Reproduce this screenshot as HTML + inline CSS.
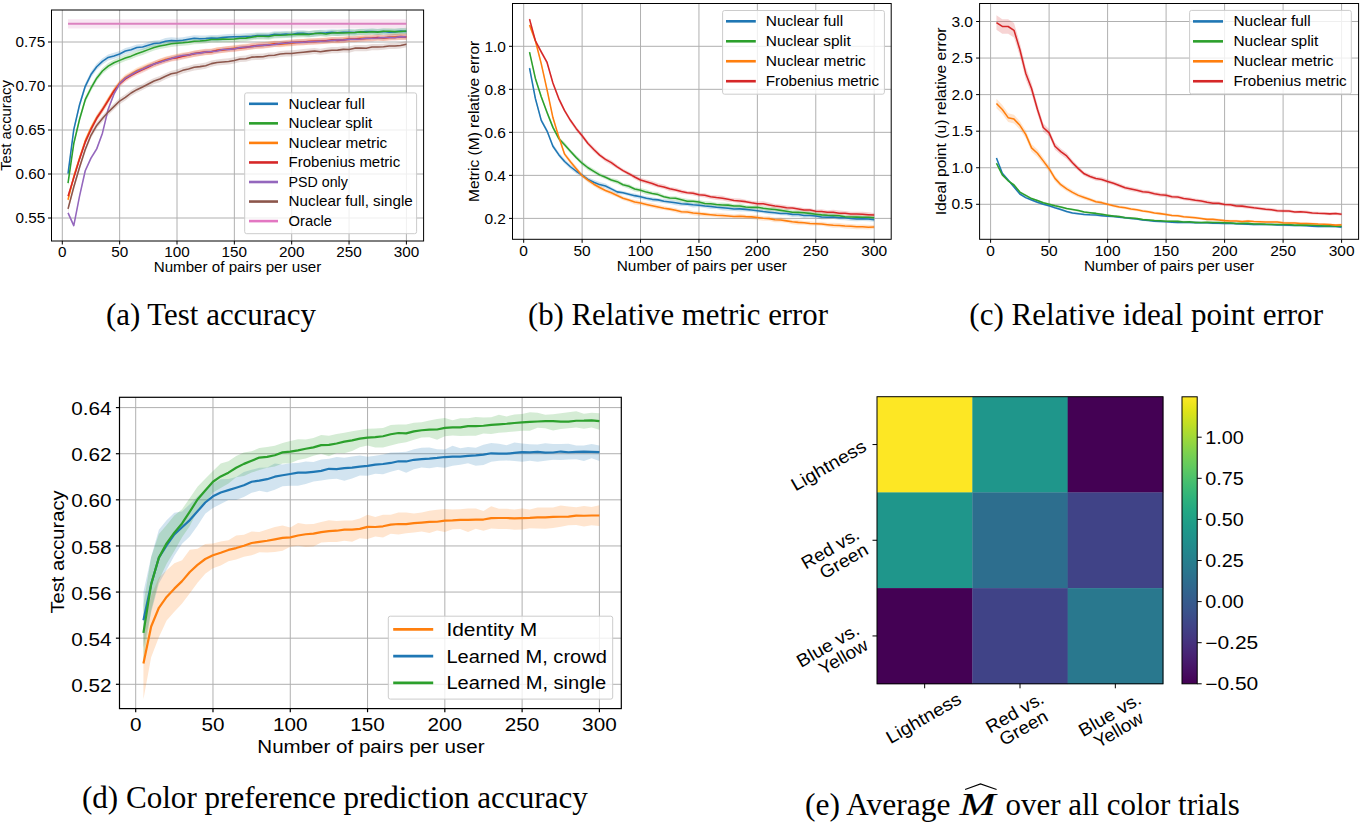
<!DOCTYPE html>
<html><head><meta charset="utf-8"><title>Figure</title>
<style>
html,body{margin:0;padding:0;background:#fff;}
body{width:1362px;height:823px;overflow:hidden;}
svg{display:block;font-family:"Liberation Sans",sans-serif;}
</style></head><body>
<svg width="1362" height="823" viewBox="0 0 1362 823">
<rect width="1362" height="823" fill="#fff"/>
<g>
<clipPath id="ca"><rect x="51.5" y="10" width="372.1" height="231"/></clipPath>
<line x1="62.3" y1="10" x2="62.3" y2="241" stroke="#b0b0b0" stroke-width="1"/>
<line x1="119.65" y1="10" x2="119.65" y2="241" stroke="#b0b0b0" stroke-width="1"/>
<line x1="177" y1="10" x2="177" y2="241" stroke="#b0b0b0" stroke-width="1"/>
<line x1="234.35" y1="10" x2="234.35" y2="241" stroke="#b0b0b0" stroke-width="1"/>
<line x1="291.7" y1="10" x2="291.7" y2="241" stroke="#b0b0b0" stroke-width="1"/>
<line x1="349.05" y1="10" x2="349.05" y2="241" stroke="#b0b0b0" stroke-width="1"/>
<line x1="406.4" y1="10" x2="406.4" y2="241" stroke="#b0b0b0" stroke-width="1"/>
<line x1="51.5" y1="218" x2="423.6" y2="218" stroke="#b0b0b0" stroke-width="1"/>
<line x1="51.5" y1="174" x2="423.6" y2="174" stroke="#b0b0b0" stroke-width="1"/>
<line x1="51.5" y1="130" x2="423.6" y2="130" stroke="#b0b0b0" stroke-width="1"/>
<line x1="51.5" y1="86" x2="423.6" y2="86" stroke="#b0b0b0" stroke-width="1"/>
<line x1="51.5" y1="42" x2="423.6" y2="42" stroke="#b0b0b0" stroke-width="1"/>
<g clip-path="url(#ca)">
<polygon points="68.03,170.49 73.77,126.49 79.5,101.96 85.24,83.22 90.97,71.49 96.71,63.62 102.44,58.25 108.18,54.4 113.91,52.82 119.65,50.94 125.38,47.98 131.12,46.59 136.86,44.47 142.59,43.93 148.32,42.09 154.06,40.52 159.8,39.99 165.53,38.11 171.26,37.32 177,37.74 182.74,37.23 188.47,36.14 194.2,35.25 199.94,35.57 205.68,35.44 211.41,34.88 217.14,35.08 222.88,34.56 228.62,34.01 234.35,33.65 240.08,33.67 245.82,33.37 251.56,33.09 257.29,32.5 263.02,32.43 268.76,32.49 274.5,31.23 280.23,31.34 285.96,31.02 291.7,31.39 297.44,30.21 303.17,30.19 308.91,30.93 314.64,30.49 320.38,29.84 326.11,29.69 331.85,29.25 337.58,29.72 343.31,29.07 349.05,29.12 354.79,29.44 360.52,28.96 366.25,28.47 371.99,28.4 377.73,28.72 383.46,28.52 389.19,29.12 394.93,28.79 400.67,28.04 406.4,28.47 406.4,34.63 400.67,34.2 394.93,34.95 389.19,35.28 383.46,34.68 377.73,34.88 371.99,34.56 366.25,34.63 360.52,35.12 354.79,35.6 349.05,35.28 343.31,35.23 337.58,35.88 331.85,35.41 326.11,35.85 320.38,36 314.64,36.65 308.91,37.09 303.17,36.35 297.44,36.37 291.7,37.55 285.96,37.18 280.23,37.5 274.5,37.39 268.76,38.65 263.02,38.59 257.29,38.66 251.56,39.25 245.82,39.53 240.08,39.83 234.35,39.81 228.62,40.17 222.88,40.72 217.14,41.24 211.41,41.04 205.68,41.6 199.94,41.73 194.2,41.41 188.47,42.3 182.74,43.39 177,43.9 171.26,43.48 165.53,44.27 159.8,46.15 154.06,46.68 148.32,48.25 142.59,50.09 136.86,50.63 131.12,52.75 125.38,54.14 119.65,57.1 113.91,58.98 108.18,60.56 102.44,64.41 96.71,69.78 90.97,77.65 85.24,89.38 79.5,108.12 73.77,132.65 68.03,176.65" fill="#1f77b4" fill-opacity="0.2"/>
<polygon points="68.03,180.04 73.77,140.45 79.5,116.47 85.24,96.63 90.97,85.15 96.71,75.15 102.44,67.9 108.18,63.09 113.91,59.66 119.65,57.27 125.38,54.87 131.12,53.08 136.86,50.6 142.59,48.73 148.32,46.53 154.06,44.44 159.8,42.84 165.53,41.86 171.26,40.76 177,40.09 182.74,39.71 188.47,39.14 194.2,38.1 199.94,37.83 205.68,37.35 211.41,36.35 217.14,36.45 222.88,36.06 228.62,36.1 234.35,35.99 240.08,35.22 245.82,35.06 251.56,34.21 257.29,33.22 263.02,33.24 268.76,33.49 274.5,32.27 280.23,32.07 285.96,31.85 291.7,31.38 297.44,31.31 303.17,31.04 308.91,31.34 314.64,30.34 320.38,30.13 326.11,30.89 331.85,29.95 337.58,29.79 343.31,29.9 349.05,29.62 354.79,29.49 360.52,28.78 366.25,29.14 371.99,28.58 377.73,29.03 383.46,28.25 389.19,28.12 394.93,28.56 400.67,28.34 406.4,27.84 406.4,34 400.67,34.5 394.93,34.72 389.19,34.28 383.46,34.41 377.73,35.19 371.99,34.74 366.25,35.3 360.52,34.94 354.79,35.65 349.05,35.78 343.31,36.06 337.58,35.95 331.85,36.11 326.11,37.05 320.38,36.29 314.64,36.5 308.91,37.5 303.17,37.2 297.44,37.47 291.7,37.54 285.96,38.01 280.23,38.23 274.5,38.43 268.76,39.65 263.02,39.4 257.29,39.38 251.56,40.37 245.82,41.22 240.08,41.38 234.35,42.15 228.62,42.26 222.88,42.22 217.14,42.61 211.41,42.51 205.68,43.51 199.94,43.99 194.2,44.26 188.47,45.3 182.74,45.87 177,46.25 171.26,46.92 165.53,48.02 159.8,49 154.06,50.6 148.32,52.69 142.59,54.89 136.86,56.76 131.12,59.24 125.38,61.03 119.65,63.43 113.91,65.82 108.18,69.25 102.44,74.06 96.71,81.31 90.97,91.31 85.24,102.79 79.5,122.63 73.77,146.61 68.03,186.2" fill="#2ca02c" fill-opacity="0.2"/>
<polygon points="68.03,196.67 73.77,173.52 79.5,155.19 85.24,137.83 90.97,125.05 96.71,114.63 102.44,106.49 108.18,96.7 113.91,87.65 119.65,79.9 125.38,74.47 131.12,71.13 136.86,67.7 142.59,65.34 148.32,62.75 154.06,60.94 159.8,58.48 165.53,56.47 171.26,55.19 177,53.67 182.74,52.57 188.47,52.05 194.2,50.48 199.94,49.73 205.68,49.16 211.41,48.63 217.14,47.17 222.88,46.81 228.62,45.91 234.35,45.1 240.08,44.58 245.82,43.75 251.56,43.59 257.29,42.63 263.02,42.36 268.76,41.37 274.5,40.89 280.23,41.08 285.96,40.57 291.7,40.05 297.44,38.97 303.17,39.03 308.91,38.48 314.64,38.4 320.38,37.87 326.11,37.64 331.85,37.34 337.58,36.82 343.31,36.51 349.05,35.92 354.79,35.82 360.52,35.31 366.25,35.09 371.99,34.7 377.73,34.71 383.46,34.89 389.19,34.03 394.93,33.69 400.67,33.51 406.4,33.58 406.4,39.74 400.67,39.67 394.93,39.85 389.19,40.19 383.46,41.05 377.73,40.87 371.99,40.86 366.25,41.25 360.52,41.47 354.79,41.98 349.05,42.08 343.31,42.67 337.58,42.98 331.85,43.5 326.11,43.8 320.38,44.03 314.64,44.56 308.91,44.64 303.17,45.19 297.44,45.13 291.7,46.21 285.96,46.73 280.23,47.24 274.5,47.05 268.76,47.53 263.02,48.52 257.29,48.79 251.56,49.75 245.82,49.91 240.08,50.74 234.35,51.26 228.62,52.07 222.88,52.97 217.14,53.33 211.41,54.79 205.68,55.32 199.94,55.89 194.2,56.64 188.47,58.21 182.74,58.73 177,59.83 171.26,61.35 165.53,62.63 159.8,64.64 154.06,67.1 148.32,68.91 142.59,71.5 136.86,73.86 131.12,77.29 125.38,80.63 119.65,86.06 113.91,93.81 108.18,102.86 102.44,112.65 96.71,120.79 90.97,131.21 85.24,143.99 79.5,161.35 73.77,179.68 68.03,202.83" fill="#ff7f0e" fill-opacity="0.2"/>
<polygon points="68.03,193.15 73.77,174.79 79.5,156.05 85.24,139.1 90.97,126.42 96.71,115.21 102.44,106.58 108.18,97.62 113.91,88.09 119.65,80.79 125.38,75.77 131.12,72.21 136.86,69.2 142.59,66.55 148.32,63.94 154.06,60.99 159.8,58.97 165.53,57.1 171.26,55.45 177,54.59 182.74,53.27 188.47,51.88 194.2,50.77 199.94,49.72 205.68,48.82 211.41,48.7 217.14,47.47 222.88,46.68 228.62,46.12 234.35,45.72 240.08,44.78 245.82,44.46 251.56,43.09 257.29,42.55 263.02,42.25 268.76,41.92 274.5,40.86 280.23,40.66 285.96,39.91 291.7,39.49 297.44,39.37 303.17,39.05 308.91,38.51 314.64,38.29 320.38,38.17 326.11,37.71 331.85,36.94 337.58,37.3 343.31,36.98 349.05,36.17 354.79,36.17 360.52,35.66 366.25,35.43 371.99,35.27 377.73,34.42 383.46,34.86 389.19,34.42 394.93,34.36 400.67,33.75 406.4,33.84 406.4,40 400.67,39.91 394.93,40.52 389.19,40.58 383.46,41.02 377.73,40.58 371.99,41.43 366.25,41.59 360.52,41.82 354.79,42.33 349.05,42.33 343.31,43.14 337.58,43.46 331.85,43.1 326.11,43.87 320.38,44.33 314.64,44.45 308.91,44.67 303.17,45.21 297.44,45.53 291.7,45.65 285.96,46.07 280.23,46.82 274.5,47.02 268.76,48.08 263.02,48.41 257.29,48.71 251.56,49.25 245.82,50.62 240.08,50.94 234.35,51.88 228.62,52.28 222.88,52.84 217.14,53.63 211.41,54.86 205.68,54.98 199.94,55.88 194.2,56.93 188.47,58.04 182.74,59.43 177,60.75 171.26,61.61 165.53,63.26 159.8,65.13 154.06,67.15 148.32,70.1 142.59,72.71 136.86,75.36 131.12,78.37 125.38,81.93 119.65,86.95 113.91,94.25 108.18,103.78 102.44,112.74 96.71,121.37 90.97,132.58 85.24,145.26 79.5,162.21 73.77,180.95 68.03,199.31" fill="#d62728" fill-opacity="0.2"/>
<polygon points="68.03,211.14 73.77,223.81 79.5,194.65 85.24,169.02 90.97,156.41 96.71,147.13 102.44,131.39 108.18,107.41 113.91,92.46 119.65,81.76 125.38,76.32 131.12,73 136.86,69.74 142.59,67.26 148.32,64.51 154.06,62.15 159.8,60.43 165.53,58.4 171.26,56.72 177,54.91 182.74,53.84 188.47,53.21 194.2,51.79 199.94,51.36 205.68,50.21 211.41,49.79 217.14,49.15 222.88,47.84 228.62,47.63 234.35,46.95 240.08,45.75 245.82,45.18 251.56,44.96 257.29,43.89 263.02,43.61 268.76,42.95 274.5,42.76 280.23,41.73 285.96,41.43 291.7,40.79 297.44,40.42 303.17,40.44 308.91,40.01 314.64,39.78 320.38,39.45 326.11,39.16 331.85,38.67 337.58,38.14 343.31,38.25 349.05,37.47 354.79,37.42 360.52,37.14 366.25,36.5 371.99,36.46 377.73,36.31 383.46,35.93 389.19,35.52 394.93,35.73 400.67,34.85 406.4,35.3 406.4,38.82 400.67,38.37 394.93,39.25 389.19,39.04 383.46,39.45 377.73,39.83 371.99,39.98 366.25,40.02 360.52,40.66 354.79,40.94 349.05,40.99 343.31,41.77 337.58,41.66 331.85,42.19 326.11,42.68 320.38,42.97 314.64,43.3 308.91,43.53 303.17,43.96 297.44,43.94 291.7,44.31 285.96,44.95 280.23,45.25 274.5,46.28 268.76,46.47 263.02,47.13 257.29,47.41 251.56,48.48 245.82,48.7 240.08,49.27 234.35,50.47 228.62,51.15 222.88,51.36 217.14,52.67 211.41,53.31 205.68,53.73 199.94,54.88 194.2,55.31 188.47,56.73 182.74,57.36 177,58.43 171.26,60.24 165.53,61.92 159.8,63.95 154.06,65.67 148.32,68.03 142.59,70.78 136.86,73.26 131.12,76.52 125.38,79.84 119.65,85.28 113.91,95.98 108.18,110.93 102.44,134.91 96.71,150.65 90.97,159.93 85.24,172.54 79.5,198.17 73.77,227.33 68.03,214.66" fill="#9467bd" fill-opacity="0.2"/>
<polygon points="68.03,205.76 73.77,183.99 79.5,164.34 85.24,146.4 90.97,132.2 96.71,122.32 102.44,115.51 108.18,109 113.91,103.6 119.65,97.99 125.38,94.37 131.12,89.92 136.86,86.6 142.59,83.91 148.32,80.87 154.06,77.94 159.8,75.97 165.53,73.16 171.26,70.74 177,69.57 182.74,67.28 188.47,65.9 194.2,64.27 199.94,63.55 205.68,62.6 211.41,60.55 217.14,59.45 222.88,58.87 228.62,58.35 234.35,57.33 240.08,55.96 245.82,55.6 251.56,54.05 257.29,53.8 263.02,53.61 268.76,52.43 274.5,52.19 280.23,50.91 285.96,50.39 291.7,50.34 297.44,49.67 303.17,49.12 308.91,48.53 314.64,47.89 320.38,48.63 326.11,47.81 331.85,47.1 337.58,47.05 343.31,46.28 349.05,46.47 354.79,45.05 360.52,45.05 366.25,45.11 371.99,44 377.73,43.99 383.46,43.69 389.19,42.9 394.93,42.89 400.67,42.36 406.4,41.11 406.4,47.27 400.67,48.52 394.93,49.05 389.19,49.06 383.46,49.85 377.73,50.15 371.99,50.16 366.25,51.27 360.52,51.21 354.79,51.21 349.05,52.63 343.31,52.44 337.58,53.21 331.85,53.26 326.11,53.97 320.38,54.79 314.64,54.05 308.91,54.69 303.17,55.28 297.44,55.83 291.7,56.5 285.96,56.55 280.23,57.07 274.5,58.35 268.76,58.59 263.02,59.77 257.29,59.96 251.56,60.21 245.82,61.76 240.08,62.12 234.35,63.49 228.62,64.51 222.88,65.03 217.14,65.61 211.41,66.71 205.68,68.76 199.94,69.71 194.2,70.43 188.47,72.06 182.74,73.44 177,75.73 171.26,76.9 165.53,79.32 159.8,82.13 154.06,84.1 148.32,87.03 142.59,90.07 136.86,92.76 131.12,96.08 125.38,100.53 119.65,104.15 113.91,109.76 108.18,115.16 102.44,121.67 96.71,128.48 90.97,138.36 85.24,152.56 79.5,170.5 73.77,190.15 68.03,211.92" fill="#8c564b" fill-opacity="0.2"/>
<polygon points="68.03,19.3 73.77,19.3 79.5,19.3 85.24,19.3 90.97,19.3 96.71,19.3 102.44,19.3 108.18,19.3 113.91,19.3 119.65,19.3 125.38,19.3 131.12,19.3 136.86,19.3 142.59,19.3 148.32,19.3 154.06,19.3 159.8,19.3 165.53,19.3 171.26,19.3 177,19.3 182.74,19.3 188.47,19.3 194.2,19.3 199.94,19.3 205.68,19.3 211.41,19.3 217.14,19.3 222.88,19.3 228.62,19.3 234.35,19.3 240.08,19.3 245.82,19.3 251.56,19.3 257.29,19.3 263.02,19.3 268.76,19.3 274.5,19.3 280.23,19.3 285.96,19.3 291.7,19.3 297.44,19.3 303.17,19.3 308.91,19.3 314.64,19.3 320.38,19.3 326.11,19.3 331.85,19.3 337.58,19.3 343.31,19.3 349.05,19.3 354.79,19.3 360.52,19.3 366.25,19.3 371.99,19.3 377.73,19.3 383.46,19.3 389.19,19.3 394.93,19.3 400.67,19.3 406.4,19.3 406.4,28.45 400.67,28.45 394.93,28.45 389.19,28.45 383.46,28.45 377.73,28.45 371.99,28.45 366.25,28.45 360.52,28.45 354.79,28.45 349.05,28.45 343.31,28.45 337.58,28.45 331.85,28.45 326.11,28.45 320.38,28.45 314.64,28.45 308.91,28.45 303.17,28.45 297.44,28.45 291.7,28.45 285.96,28.45 280.23,28.45 274.5,28.45 268.76,28.45 263.02,28.45 257.29,28.45 251.56,28.45 245.82,28.45 240.08,28.45 234.35,28.45 228.62,28.45 222.88,28.45 217.14,28.45 211.41,28.45 205.68,28.45 199.94,28.45 194.2,28.45 188.47,28.45 182.74,28.45 177,28.45 171.26,28.45 165.53,28.45 159.8,28.45 154.06,28.45 148.32,28.45 142.59,28.45 136.86,28.45 131.12,28.45 125.38,28.45 119.65,28.45 113.91,28.45 108.18,28.45 102.44,28.45 96.71,28.45 90.97,28.45 85.24,28.45 79.5,28.45 73.77,28.45 68.03,28.45" fill="#dc82c0" fill-opacity="0.2"/>
<polyline points="68.03,173.57 73.77,129.57 79.5,105.04 85.24,86.3 90.97,74.57 96.71,66.7 102.44,61.33 108.18,57.48 113.91,55.9 119.65,54.02 125.38,51.06 131.12,49.67 136.86,47.55 142.59,47.01 148.32,45.17 154.06,43.6 159.8,43.07 165.53,41.19 171.26,40.4 177,40.82 182.74,40.31 188.47,39.22 194.2,38.33 199.94,38.65 205.68,38.52 211.41,37.96 217.14,38.16 222.88,37.64 228.62,37.09 234.35,36.73 240.08,36.75 245.82,36.45 251.56,36.17 257.29,35.58 263.02,35.51 268.76,35.57 274.5,34.31 280.23,34.42 285.96,34.1 291.7,34.47 297.44,33.29 303.17,33.27 308.91,34.01 314.64,33.57 320.38,32.92 326.11,32.77 331.85,32.33 337.58,32.8 343.31,32.15 349.05,32.2 354.79,32.52 360.52,32.04 366.25,31.55 371.99,31.48 377.73,31.8 383.46,31.6 389.19,32.2 394.93,31.87 400.67,31.12 406.4,31.55" fill="none" stroke="#1f77b4" stroke-width="1.55" stroke-linejoin="round"/>
<polyline points="68.03,183.12 73.77,143.53 79.5,119.55 85.24,99.71 90.97,88.23 96.71,78.23 102.44,70.98 108.18,66.17 113.91,62.74 119.65,60.35 125.38,57.95 131.12,56.16 136.86,53.68 142.59,51.81 148.32,49.61 154.06,47.52 159.8,45.92 165.53,44.94 171.26,43.84 177,43.17 182.74,42.79 188.47,42.22 194.2,41.18 199.94,40.91 205.68,40.43 211.41,39.43 217.14,39.53 222.88,39.14 228.62,39.18 234.35,39.07 240.08,38.3 245.82,38.14 251.56,37.29 257.29,36.3 263.02,36.32 268.76,36.57 274.5,35.35 280.23,35.15 285.96,34.93 291.7,34.46 297.44,34.39 303.17,34.12 308.91,34.42 314.64,33.42 320.38,33.21 326.11,33.97 331.85,33.03 337.58,32.87 343.31,32.98 349.05,32.7 354.79,32.57 360.52,31.86 366.25,32.22 371.99,31.66 377.73,32.11 383.46,31.33 389.19,31.2 394.93,31.64 400.67,31.42 406.4,30.92" fill="none" stroke="#2ca02c" stroke-width="1.55" stroke-linejoin="round"/>
<polyline points="68.03,199.75 73.77,176.6 79.5,158.27 85.24,140.91 90.97,128.13 96.71,117.71 102.44,109.57 108.18,99.78 113.91,90.73 119.65,82.98 125.38,77.55 131.12,74.21 136.86,70.78 142.59,68.42 148.32,65.83 154.06,64.02 159.8,61.56 165.53,59.55 171.26,58.27 177,56.75 182.74,55.65 188.47,55.13 194.2,53.56 199.94,52.81 205.68,52.24 211.41,51.71 217.14,50.25 222.88,49.89 228.62,48.99 234.35,48.18 240.08,47.66 245.82,46.83 251.56,46.67 257.29,45.71 263.02,45.44 268.76,44.45 274.5,43.97 280.23,44.16 285.96,43.65 291.7,43.13 297.44,42.05 303.17,42.11 308.91,41.56 314.64,41.48 320.38,40.95 326.11,40.72 331.85,40.42 337.58,39.9 343.31,39.59 349.05,39 354.79,38.9 360.52,38.39 366.25,38.17 371.99,37.78 377.73,37.79 383.46,37.97 389.19,37.11 394.93,36.77 400.67,36.59 406.4,36.66" fill="none" stroke="#ff7f0e" stroke-width="1.55" stroke-linejoin="round"/>
<polyline points="68.03,196.23 73.77,177.87 79.5,159.13 85.24,142.18 90.97,129.5 96.71,118.29 102.44,109.66 108.18,100.7 113.91,91.17 119.65,83.87 125.38,78.85 131.12,75.29 136.86,72.28 142.59,69.63 148.32,67.02 154.06,64.07 159.8,62.05 165.53,60.18 171.26,58.53 177,57.67 182.74,56.35 188.47,54.96 194.2,53.85 199.94,52.8 205.68,51.9 211.41,51.78 217.14,50.55 222.88,49.76 228.62,49.2 234.35,48.8 240.08,47.86 245.82,47.54 251.56,46.17 257.29,45.63 263.02,45.33 268.76,45 274.5,43.94 280.23,43.74 285.96,42.99 291.7,42.57 297.44,42.45 303.17,42.13 308.91,41.59 314.64,41.37 320.38,41.25 326.11,40.79 331.85,40.02 337.58,40.38 343.31,40.06 349.05,39.25 354.79,39.25 360.52,38.74 366.25,38.51 371.99,38.35 377.73,37.5 383.46,37.94 389.19,37.5 394.93,37.44 400.67,36.83 406.4,36.92" fill="none" stroke="#d62728" stroke-width="1.55" stroke-linejoin="round"/>
<polyline points="68.03,212.9 73.77,225.57 79.5,196.41 85.24,170.78 90.97,158.17 96.71,148.89 102.44,133.15 108.18,109.17 113.91,94.22 119.65,83.52 125.38,78.08 131.12,74.76 136.86,71.5 142.59,69.02 148.32,66.27 154.06,63.91 159.8,62.19 165.53,60.16 171.26,58.48 177,56.67 182.74,55.6 188.47,54.97 194.2,53.55 199.94,53.12 205.68,51.97 211.41,51.55 217.14,50.91 222.88,49.6 228.62,49.39 234.35,48.71 240.08,47.51 245.82,46.94 251.56,46.72 257.29,45.65 263.02,45.37 268.76,44.71 274.5,44.52 280.23,43.49 285.96,43.19 291.7,42.55 297.44,42.18 303.17,42.2 308.91,41.77 314.64,41.54 320.38,41.21 326.11,40.92 331.85,40.43 337.58,39.9 343.31,40.01 349.05,39.23 354.79,39.18 360.52,38.9 366.25,38.26 371.99,38.22 377.73,38.07 383.46,37.69 389.19,37.28 394.93,37.49 400.67,36.61 406.4,37.06" fill="none" stroke="#9467bd" stroke-width="1.55" stroke-linejoin="round"/>
<polyline points="68.03,208.84 73.77,187.07 79.5,167.42 85.24,149.48 90.97,135.28 96.71,125.4 102.44,118.59 108.18,112.08 113.91,106.68 119.65,101.07 125.38,97.45 131.12,93 136.86,89.68 142.59,86.99 148.32,83.95 154.06,81.02 159.8,79.05 165.53,76.24 171.26,73.82 177,72.65 182.74,70.36 188.47,68.98 194.2,67.35 199.94,66.63 205.68,65.68 211.41,63.63 217.14,62.53 222.88,61.95 228.62,61.43 234.35,60.41 240.08,59.04 245.82,58.68 251.56,57.13 257.29,56.88 263.02,56.69 268.76,55.51 274.5,55.27 280.23,53.99 285.96,53.47 291.7,53.42 297.44,52.75 303.17,52.2 308.91,51.61 314.64,50.97 320.38,51.71 326.11,50.89 331.85,50.18 337.58,50.13 343.31,49.36 349.05,49.55 354.79,48.13 360.52,48.13 366.25,48.19 371.99,47.08 377.73,47.07 383.46,46.77 389.19,45.98 394.93,45.97 400.67,45.44 406.4,44.19" fill="none" stroke="#8c564b" stroke-width="1.55" stroke-linejoin="round"/>
<polyline points="68.03,23.87 73.77,23.87 79.5,23.87 85.24,23.87 90.97,23.87 96.71,23.87 102.44,23.87 108.18,23.87 113.91,23.87 119.65,23.87 125.38,23.87 131.12,23.87 136.86,23.87 142.59,23.87 148.32,23.87 154.06,23.87 159.8,23.87 165.53,23.87 171.26,23.87 177,23.87 182.74,23.87 188.47,23.87 194.2,23.87 199.94,23.87 205.68,23.87 211.41,23.87 217.14,23.87 222.88,23.87 228.62,23.87 234.35,23.87 240.08,23.87 245.82,23.87 251.56,23.87 257.29,23.87 263.02,23.87 268.76,23.87 274.5,23.87 280.23,23.87 285.96,23.87 291.7,23.87 297.44,23.87 303.17,23.87 308.91,23.87 314.64,23.87 320.38,23.87 326.11,23.87 331.85,23.87 337.58,23.87 343.31,23.87 349.05,23.87 354.79,23.87 360.52,23.87 366.25,23.87 371.99,23.87 377.73,23.87 383.46,23.87 389.19,23.87 394.93,23.87 400.67,23.87 406.4,23.87" fill="none" stroke="#dc82c0" stroke-width="2" stroke-linejoin="round"/>
</g>
<rect x="244.7" y="92.9" width="171.9" height="140.8" rx="2" fill="#fff" fill-opacity="0.8" stroke="#cccccc" stroke-width="1"/>
<line x1="249" y1="103.8" x2="278" y2="103.8" stroke="#1f77b4" stroke-width="2.6"/>
<text x="288.6" y="108.5" font-size="13.82" textLength="76.2" lengthAdjust="spacingAndGlyphs" fill="#000">Nuclear full</text>
<line x1="249" y1="123.35" x2="278" y2="123.35" stroke="#2ca02c" stroke-width="2.6"/>
<text x="288.6" y="128.05" font-size="13.82" textLength="83.71" lengthAdjust="spacingAndGlyphs" fill="#000">Nuclear split</text>
<line x1="249" y1="142.9" x2="278" y2="142.9" stroke="#ff7f0e" stroke-width="2.6"/>
<text x="288.6" y="147.6" font-size="13.82" textLength="98.62" lengthAdjust="spacingAndGlyphs" fill="#000">Nuclear metric</text>
<line x1="249" y1="162.45" x2="278" y2="162.45" stroke="#d62728" stroke-width="2.6"/>
<text x="288.6" y="167.15" font-size="13.82" textLength="111.58" lengthAdjust="spacingAndGlyphs" fill="#000">Frobenius metric</text>
<line x1="249" y1="182" x2="278" y2="182" stroke="#9467bd" stroke-width="2.6"/>
<text x="288.6" y="186.7" font-size="13.82" textLength="59.29" lengthAdjust="spacingAndGlyphs" fill="#000">PSD only</text>
<line x1="249" y1="201.55" x2="278" y2="201.55" stroke="#8c564b" stroke-width="2.6"/>
<text x="288.6" y="206.25" font-size="13.82" textLength="124.21" lengthAdjust="spacingAndGlyphs" fill="#000">Nuclear full, single</text>
<line x1="249" y1="221.1" x2="278" y2="221.1" stroke="#e377c2" stroke-width="2.6"/>
<text x="288.6" y="225.8" font-size="13.82" textLength="43.44" lengthAdjust="spacingAndGlyphs" fill="#000">Oracle</text>
<rect x="51.5" y="10" width="372.1" height="231" fill="none" stroke="#000" stroke-width="1"/>
<line x1="62.3" y1="241" x2="62.3" y2="244.5" stroke="#000" stroke-width="1"/>
<text x="58.05" y="257" font-size="13.82" textLength="8.49" lengthAdjust="spacingAndGlyphs" fill="#000">0</text>
<line x1="119.65" y1="241" x2="119.65" y2="244.5" stroke="#000" stroke-width="1"/>
<text x="111.16" y="257" font-size="13.82" textLength="16.99" lengthAdjust="spacingAndGlyphs" fill="#000">50</text>
<line x1="177" y1="241" x2="177" y2="244.5" stroke="#000" stroke-width="1"/>
<text x="164.26" y="257" font-size="13.82" textLength="25.48" lengthAdjust="spacingAndGlyphs" fill="#000">100</text>
<line x1="234.35" y1="241" x2="234.35" y2="244.5" stroke="#000" stroke-width="1"/>
<text x="221.61" y="257" font-size="13.82" textLength="25.48" lengthAdjust="spacingAndGlyphs" fill="#000">150</text>
<line x1="291.7" y1="241" x2="291.7" y2="244.5" stroke="#000" stroke-width="1"/>
<text x="278.96" y="257" font-size="13.82" textLength="25.48" lengthAdjust="spacingAndGlyphs" fill="#000">200</text>
<line x1="349.05" y1="241" x2="349.05" y2="244.5" stroke="#000" stroke-width="1"/>
<text x="336.31" y="257" font-size="13.82" textLength="25.48" lengthAdjust="spacingAndGlyphs" fill="#000">250</text>
<line x1="406.4" y1="241" x2="406.4" y2="244.5" stroke="#000" stroke-width="1"/>
<text x="393.66" y="257" font-size="13.82" textLength="25.48" lengthAdjust="spacingAndGlyphs" fill="#000">300</text>
<line x1="48" y1="218" x2="51.5" y2="218" stroke="#000" stroke-width="1"/>
<text x="15.47" y="223" font-size="13.82" textLength="29.73" lengthAdjust="spacingAndGlyphs" fill="#000">0.55</text>
<line x1="48" y1="174" x2="51.5" y2="174" stroke="#000" stroke-width="1"/>
<text x="15.47" y="179" font-size="13.82" textLength="29.73" lengthAdjust="spacingAndGlyphs" fill="#000">0.60</text>
<line x1="48" y1="130" x2="51.5" y2="130" stroke="#000" stroke-width="1"/>
<text x="15.47" y="135" font-size="13.82" textLength="29.73" lengthAdjust="spacingAndGlyphs" fill="#000">0.65</text>
<line x1="48" y1="86" x2="51.5" y2="86" stroke="#000" stroke-width="1"/>
<text x="15.47" y="91" font-size="13.82" textLength="29.73" lengthAdjust="spacingAndGlyphs" fill="#000">0.70</text>
<line x1="48" y1="42" x2="51.5" y2="42" stroke="#000" stroke-width="1"/>
<text x="15.47" y="47" font-size="13.82" textLength="29.73" lengthAdjust="spacingAndGlyphs" fill="#000">0.75</text>
<text x="153.71" y="272.3" font-size="13.82" textLength="167.58" lengthAdjust="spacingAndGlyphs" fill="#000">Number of pairs per user</text>
<g transform="translate(10.5 125.5) rotate(-90)"><text x="-45.38" y="0" font-size="13.82" textLength="90.77" lengthAdjust="spacingAndGlyphs" fill="#000">Test accuracy</text></g>
</g>
<g>
<clipPath id="cb"><rect x="512.5" y="3.5" width="378.7" height="235.8"/></clipPath>
<line x1="523.7" y1="3.5" x2="523.7" y2="239.3" stroke="#b0b0b0" stroke-width="1"/>
<line x1="582.12" y1="3.5" x2="582.12" y2="239.3" stroke="#b0b0b0" stroke-width="1"/>
<line x1="640.53" y1="3.5" x2="640.53" y2="239.3" stroke="#b0b0b0" stroke-width="1"/>
<line x1="698.95" y1="3.5" x2="698.95" y2="239.3" stroke="#b0b0b0" stroke-width="1"/>
<line x1="757.37" y1="3.5" x2="757.37" y2="239.3" stroke="#b0b0b0" stroke-width="1"/>
<line x1="815.78" y1="3.5" x2="815.78" y2="239.3" stroke="#b0b0b0" stroke-width="1"/>
<line x1="874.2" y1="3.5" x2="874.2" y2="239.3" stroke="#b0b0b0" stroke-width="1"/>
<line x1="512.5" y1="218.38" x2="891.2" y2="218.38" stroke="#b0b0b0" stroke-width="1"/>
<line x1="512.5" y1="175.36" x2="891.2" y2="175.36" stroke="#b0b0b0" stroke-width="1"/>
<line x1="512.5" y1="132.34" x2="891.2" y2="132.34" stroke="#b0b0b0" stroke-width="1"/>
<line x1="512.5" y1="89.32" x2="891.2" y2="89.32" stroke="#b0b0b0" stroke-width="1"/>
<line x1="512.5" y1="46.3" x2="891.2" y2="46.3" stroke="#b0b0b0" stroke-width="1"/>
<g clip-path="url(#cb)">
<polygon points="529.54,65.87 535.38,96.43 541.23,117.95 547.07,128.87 552.91,143.77 558.75,152.16 564.59,158.99 570.43,164.61 576.28,168.84 582.12,173.21 587.96,177.27 593.8,179.66 599.64,182.06 605.48,183.57 611.33,186.96 617.17,190.13 623.01,190.91 628.85,192.41 634.69,193.61 640.53,195.02 646.38,196.28 652.22,197.26 658.06,198.13 663.9,198.9 669.74,199.5 675.58,200.68 681.43,201.9 687.27,202.21 693.11,202.78 698.95,203.12 704.79,203.9 710.63,204.31 716.48,205.03 722.32,205.76 728.16,206.35 734,206.5 739.84,206.4 745.68,207.37 751.53,208.16 757.37,208.22 763.21,208.99 769.05,210.03 774.89,210.77 780.73,211.68 786.58,211.68 792.42,212.39 798.26,212.52 804.1,212.84 809.94,213 815.78,213.92 821.62,215.04 827.47,214.82 833.31,214.62 839.15,215.73 844.99,215.46 850.83,216.39 856.67,216.54 862.52,216.42 868.36,216.96 874.2,217.38 874.2,221.66 868.36,221.32 862.52,220.93 856.67,221.15 850.83,220.98 844.99,220.24 839.15,220.02 833.31,219.01 827.47,219.24 821.62,219.44 815.78,218.09 809.94,217.54 804.1,217.88 798.26,216.86 792.42,216.88 786.58,215.49 780.73,215.23 774.89,214.62 769.05,214.57 763.21,213.32 757.37,212.74 751.53,211.92 745.68,211.46 739.84,211.4 734,211.07 728.16,210.68 722.32,210.14 716.48,209.1 710.63,208.94 704.79,208.08 698.95,206.92 693.11,207.39 687.27,206.01 681.43,206.05 675.58,205.2 669.74,203.99 663.9,203.37 658.06,202.22 652.22,201.85 646.38,200.36 640.53,198.9 634.69,197.93 628.85,195.9 623.01,194.62 617.17,193.9 611.33,191.26 605.48,188.3 599.64,186.41 593.8,184.49 587.96,181.61 582.12,176.99 576.28,173.82 570.43,169.19 564.59,163.54 558.75,156.74 552.91,148.35 547.07,133.05 541.23,122.19 535.38,100.55 529.54,70.03" fill="#1f77b4" fill-opacity="0.2"/>
<polygon points="529.54,50.35 535.38,76.03 541.23,94.23 547.07,110.53 552.91,124.96 558.75,136.7 564.59,142.22 570.43,149.2 576.28,155.32 582.12,160.68 587.96,165.39 593.8,169.08 599.64,172.39 605.48,175.52 611.33,178.06 617.17,179.26 623.01,182.88 628.85,184.09 634.69,187.27 640.53,188.11 646.38,189.57 652.22,191.49 658.06,192.1 663.9,194.89 669.74,196.17 675.58,196.22 681.43,197.63 687.27,198.78 693.11,199.41 698.95,199.93 704.79,201.19 710.63,201.46 716.48,202.86 722.32,202.39 728.16,202.91 734,203.97 739.84,203.56 745.68,205 751.53,205.58 757.37,205.58 763.21,205.94 769.05,206.91 774.89,207.09 780.73,208.61 786.58,208.71 792.42,210.22 798.26,210.28 804.1,210.37 809.94,211.2 815.78,211.6 821.62,212.47 827.47,212.8 833.31,213.08 839.15,213.74 844.99,214.77 850.83,214.7 856.67,215.02 862.52,215.2 868.36,214.9 874.2,215.43 874.2,219.81 868.36,219.49 862.52,219.79 856.67,219.43 850.83,219.28 844.99,218.51 839.15,217.99 833.31,217.43 827.47,217.25 821.62,217.42 815.78,216.68 809.94,215.37 804.1,214.54 798.26,214.19 792.42,214.05 786.58,213.1 780.73,212.35 774.89,211.31 769.05,211.52 763.21,210.1 757.37,209.27 751.53,209.28 745.68,209.33 739.84,208.34 734,207.94 728.16,207.47 722.32,207.46 716.48,207.15 710.63,205.71 704.79,206.04 698.95,204.46 693.11,203.26 687.27,203.29 681.43,202.29 675.58,200.7 669.74,199.86 663.9,198.55 658.06,196.33 652.22,195.3 646.38,194.68 640.53,192.36 634.69,191.59 628.85,188.7 623.01,186.75 617.17,183.92 611.33,181.93 605.48,179.15 599.64,176.63 593.8,173.54 587.96,170.3 582.12,165.43 576.28,159.37 570.43,153.52 564.59,146.74 558.75,140.66 552.91,129.43 547.07,114.89 541.23,98.64 535.38,80.65 529.54,53.92" fill="#2ca02c" fill-opacity="0.2"/>
<polygon points="529.54,22.67 535.38,38.46 541.23,61.75 547.07,87.42 552.91,115.77 558.75,135.08 564.59,151.99 570.43,159.59 576.28,166.31 582.12,173.61 587.96,177.94 593.8,182.36 599.64,185.12 605.48,188.46 611.33,191.06 617.17,193.09 623.01,196.36 628.85,198.17 634.69,199.81 640.53,200.95 646.38,202.2 652.22,203.19 658.06,204.72 663.9,205.93 669.74,207.18 675.58,208.02 681.43,209.93 687.27,209.44 693.11,211.1 698.95,211.51 704.79,212.17 710.63,212.93 716.48,212.71 722.32,213.34 728.16,213.75 734,214.55 739.84,213.75 745.68,214.8 751.53,214.75 757.37,215.01 763.21,216.34 769.05,216.25 774.89,217.8 780.73,217.42 786.58,218.98 792.42,219.81 798.26,219.88 804.1,220.97 809.94,221.26 815.78,222.04 821.62,221.8 827.47,222.67 833.31,222.86 839.15,222.97 844.99,223.83 850.83,224 856.67,224.57 862.52,224.46 868.36,224.81 874.2,224.94 874.2,229.01 868.36,229.43 862.52,229.15 856.67,229.16 850.83,228.65 844.99,228.43 839.15,227.43 833.31,227.71 827.47,226.69 821.62,225.82 815.78,225.52 809.94,225.49 804.1,224.87 798.26,224.82 792.42,224.3 786.58,222.72 780.73,222.16 774.89,222.2 769.05,220.85 763.21,220.7 757.37,220.06 751.53,219.37 745.68,218.96 739.84,218.49 734,218.42 728.16,217.87 722.32,217.88 716.48,217.27 710.63,216.6 704.79,216.51 698.95,215.98 693.11,215.16 687.27,214.05 681.43,214.12 675.58,212.58 669.74,210.96 663.9,210.05 658.06,209.27 652.22,207.81 646.38,206.55 640.53,205.35 634.69,204.6 628.85,201.92 623.01,200.24 617.17,197.23 611.33,195.08 605.48,192.39 599.64,189.91 593.8,186.22 587.96,182.45 582.12,177.48 576.28,171.13 570.43,164 564.59,156.27 558.75,138.95 552.91,119.63 547.07,91.93 541.23,66.02 535.38,42.98 529.54,27.53" fill="#ff7f0e" fill-opacity="0.2"/>
<polygon points="529.54,17.01 535.38,38.92 541.23,49.65 547.07,60.76 552.91,81 558.75,96.11 564.59,108.43 570.43,118.39 576.28,126.59 582.12,133.54 587.96,141.09 593.8,147.12 599.64,152.8 605.48,157.46 611.33,160.35 617.17,164.64 623.01,168.76 628.85,171.72 634.69,174.67 640.53,177.66 646.38,179.58 652.22,181.09 658.06,183.18 663.9,184.62 669.74,187.06 675.58,187.8 681.43,189.52 687.27,190.94 693.11,191 698.95,192.94 704.79,193.36 710.63,195.01 716.48,195.33 722.32,195.84 728.16,197.45 734,198.2 739.84,198.43 745.68,199.7 751.53,200.8 757.37,201.56 763.21,201.3 769.05,202.46 774.89,204.01 780.73,204.51 786.58,205.43 792.42,206.18 798.26,207.1 804.1,207.99 809.94,208.13 815.78,209.38 821.62,209.31 827.47,210.37 833.31,209.8 839.15,210.59 844.99,211.06 850.83,211.72 856.67,211.71 862.52,211.85 868.36,212.2 874.2,212.97 874.2,217.31 868.36,217.04 862.52,216.53 856.67,216.29 850.83,216.52 844.99,214.97 839.15,215.68 833.31,214.42 827.47,214.69 821.62,213.38 815.78,213.15 809.94,212.28 804.1,211.87 798.26,210.72 792.42,210.05 786.58,210.06 780.73,208.73 774.89,208.58 769.05,206.93 763.21,205.75 757.37,206.25 751.53,204.7 745.68,203.46 739.84,203.34 734,202.36 728.16,201.74 722.32,200.51 716.48,200.12 710.63,198.89 704.79,197.42 698.95,196.79 693.11,195.52 687.27,194.58 681.43,193.91 675.58,191.85 669.74,191.24 663.9,188.96 658.06,187.79 652.22,185.8 646.38,184.08 640.53,182.17 634.69,179.26 628.85,175.55 623.01,172.49 617.17,168.67 611.33,165 605.48,161.84 599.64,156.96 593.8,152.05 587.96,145.5 582.12,138.25 576.28,131.09 570.43,122.76 564.59,112.62 558.75,101.07 552.91,85.41 547.07,64.54 541.23,53.94 535.38,42.94 529.54,21.15" fill="#d62728" fill-opacity="0.2"/>
<polyline points="529.54,68.07 535.38,98.52 541.23,120.36 547.07,131.08 552.91,146.31 558.75,154.64 564.59,161.54 570.43,166.75 576.28,171.26 582.12,175.11 587.96,179.33 593.8,182.2 599.64,184.6 605.48,186.06 611.33,188.87 617.17,191.89 623.01,192.75 628.85,194.16 634.69,195.63 640.53,196.77 646.38,198.22 652.22,199.36 658.06,199.88 663.9,201.2 669.74,201.97 675.58,202.75 681.43,203.73 687.27,204.11 693.11,204.85 698.95,205.18 704.79,206.1 710.63,206.59 716.48,207.27 722.32,207.66 728.16,208.35 734,209.01 739.84,208.89 745.68,209.39 751.53,210.03 757.37,210.67 763.21,211.56 769.05,212.2 774.89,212.73 780.73,213.5 786.58,213.48 792.42,214.36 798.26,214.52 804.1,215.42 809.94,215.41 815.78,215.93 821.62,217.06 827.47,217.26 833.31,217.03 839.15,217.76 844.99,217.66 850.83,218.49 856.67,219.06 862.52,218.86 868.36,218.99 874.2,219.65" fill="none" stroke="#1f77b4" stroke-width="1.55" stroke-linejoin="round"/>
<polyline points="529.54,52.13 535.38,78.43 541.23,96.71 547.07,112.43 552.91,127.38 558.75,138.47 564.59,144.8 570.43,151.22 576.28,157.63 582.12,163.23 587.96,167.74 593.8,171.35 599.64,174.85 605.48,177.28 611.33,179.97 617.17,181.68 623.01,184.73 628.85,186.32 634.69,189.01 640.53,190.26 646.38,192.12 652.22,193.56 658.06,194.61 663.9,196.67 669.74,197.9 675.58,198.35 681.43,199.79 687.27,201.15 693.11,201.26 698.95,202.08 704.79,203.47 710.63,203.8 716.48,204.59 722.32,204.92 728.16,205.12 734,205.95 739.84,205.94 745.68,206.96 751.53,207.36 757.37,207.35 763.21,208.33 769.05,208.99 774.89,209.55 780.73,210.39 786.58,211.22 792.42,212.25 798.26,212.36 804.1,212.8 809.94,213.38 815.78,214.15 821.62,214.86 827.47,215.29 833.31,215.43 839.15,215.83 844.99,216.69 850.83,216.92 856.67,217.13 862.52,217.28 868.36,217.26 874.2,217.73" fill="none" stroke="#2ca02c" stroke-width="1.55" stroke-linejoin="round"/>
<polyline points="529.54,25 535.38,40.76 541.23,63.67 547.07,89.88 552.91,117.55 558.75,136.87 564.59,154.15 570.43,161.83 576.28,168.79 582.12,175.68 587.96,180.07 593.8,184.21 599.64,187.51 605.48,190.44 611.33,192.83 617.17,195.49 623.01,198.25 628.85,200.1 634.69,202.06 640.53,203 646.38,204.43 652.22,205.75 658.06,206.97 663.9,208.21 669.74,209.13 675.58,210.27 681.43,211.65 687.27,211.97 693.11,213.02 698.95,213.43 704.79,214.14 710.63,214.73 716.48,215.2 722.32,215.52 728.16,215.97 734,216.49 739.84,216.23 745.68,216.62 751.53,216.86 757.37,217.57 763.21,218.21 769.05,218.63 774.89,219.79 780.73,219.98 786.58,220.86 792.42,221.75 798.26,222.38 804.1,222.71 809.94,223.49 815.78,223.79 821.62,224.1 827.47,224.7 833.31,225.33 839.15,225.4 844.99,225.98 850.83,226.33 856.67,226.68 862.52,226.82 868.36,227.34 874.2,227.07" fill="none" stroke="#ff7f0e" stroke-width="1.55" stroke-linejoin="round"/>
<polyline points="529.54,19.11 535.38,40.75 541.23,51.91 547.07,62.48 552.91,83.06 558.75,98.59 564.59,110.63 570.43,120.29 576.28,128.67 582.12,135.84 587.96,143.5 593.8,149.52 599.64,155.09 605.48,159.36 611.33,162.7 617.17,166.88 623.01,170.64 628.85,173.7 634.69,177 640.53,179.96 646.38,181.7 652.22,183.51 658.06,185.7 663.9,186.9 669.74,188.85 675.58,190.06 681.43,191.58 687.27,192.7 693.11,193.19 698.95,194.8 704.79,195.35 710.63,196.81 716.48,197.59 722.32,198.23 728.16,199.23 734,200.52 739.84,200.9 745.68,201.64 751.53,202.8 757.37,203.67 763.21,203.81 769.05,204.95 774.89,206.06 780.73,206.66 786.58,207.67 792.42,207.95 798.26,208.95 804.1,209.99 809.94,210.01 815.78,211.2 821.62,211.56 827.47,212.29 833.31,212.16 839.15,213.16 844.99,213.24 850.83,214.02 856.67,214.06 862.52,214.22 868.36,214.65 874.2,214.98" fill="none" stroke="#d62728" stroke-width="1.55" stroke-linejoin="round"/>
</g>
<rect x="722.6" y="10.5" width="161.8" height="83.7" rx="2" fill="#fff" fill-opacity="0.8" stroke="#cccccc" stroke-width="1"/>
<line x1="726" y1="21.3" x2="755.8" y2="21.3" stroke="#1f77b4" stroke-width="2.6"/>
<text x="765.8" y="26.1" font-size="14.02" textLength="77.35" lengthAdjust="spacingAndGlyphs" fill="#000">Nuclear full</text>
<line x1="726" y1="41.27" x2="755.8" y2="41.27" stroke="#2ca02c" stroke-width="2.6"/>
<text x="765.8" y="46.07" font-size="14.02" textLength="84.96" lengthAdjust="spacingAndGlyphs" fill="#000">Nuclear split</text>
<line x1="726" y1="61.24" x2="755.8" y2="61.24" stroke="#ff7f0e" stroke-width="2.6"/>
<text x="765.8" y="66.04" font-size="14.02" textLength="100.09" lengthAdjust="spacingAndGlyphs" fill="#000">Nuclear metric</text>
<line x1="726" y1="81.21" x2="755.8" y2="81.21" stroke="#d62728" stroke-width="2.6"/>
<text x="765.8" y="86.01" font-size="14.02" textLength="113.25" lengthAdjust="spacingAndGlyphs" fill="#000">Frobenius metric</text>
<rect x="512.5" y="3.5" width="378.7" height="235.8" fill="none" stroke="#000" stroke-width="1"/>
<line x1="523.7" y1="239.3" x2="523.7" y2="242.8" stroke="#000" stroke-width="1"/>
<text x="519.39" y="255.5" font-size="14.02" textLength="8.62" lengthAdjust="spacingAndGlyphs" fill="#000">0</text>
<line x1="582.12" y1="239.3" x2="582.12" y2="242.8" stroke="#000" stroke-width="1"/>
<text x="573.5" y="255.5" font-size="14.02" textLength="17.24" lengthAdjust="spacingAndGlyphs" fill="#000">50</text>
<line x1="640.53" y1="239.3" x2="640.53" y2="242.8" stroke="#000" stroke-width="1"/>
<text x="627.6" y="255.5" font-size="14.02" textLength="25.86" lengthAdjust="spacingAndGlyphs" fill="#000">100</text>
<line x1="698.95" y1="239.3" x2="698.95" y2="242.8" stroke="#000" stroke-width="1"/>
<text x="686.02" y="255.5" font-size="14.02" textLength="25.86" lengthAdjust="spacingAndGlyphs" fill="#000">150</text>
<line x1="757.37" y1="239.3" x2="757.37" y2="242.8" stroke="#000" stroke-width="1"/>
<text x="744.43" y="255.5" font-size="14.02" textLength="25.86" lengthAdjust="spacingAndGlyphs" fill="#000">200</text>
<line x1="815.78" y1="239.3" x2="815.78" y2="242.8" stroke="#000" stroke-width="1"/>
<text x="802.85" y="255.5" font-size="14.02" textLength="25.86" lengthAdjust="spacingAndGlyphs" fill="#000">250</text>
<line x1="874.2" y1="239.3" x2="874.2" y2="242.8" stroke="#000" stroke-width="1"/>
<text x="861.27" y="255.5" font-size="14.02" textLength="25.86" lengthAdjust="spacingAndGlyphs" fill="#000">300</text>
<line x1="509" y1="218.38" x2="512.5" y2="218.38" stroke="#000" stroke-width="1"/>
<text x="484.45" y="223.68" font-size="14.02" textLength="21.55" lengthAdjust="spacingAndGlyphs" fill="#000">0.2</text>
<line x1="509" y1="175.36" x2="512.5" y2="175.36" stroke="#000" stroke-width="1"/>
<text x="484.45" y="180.66" font-size="14.02" textLength="21.55" lengthAdjust="spacingAndGlyphs" fill="#000">0.4</text>
<line x1="509" y1="132.34" x2="512.5" y2="132.34" stroke="#000" stroke-width="1"/>
<text x="484.45" y="137.64" font-size="14.02" textLength="21.55" lengthAdjust="spacingAndGlyphs" fill="#000">0.6</text>
<line x1="509" y1="89.32" x2="512.5" y2="89.32" stroke="#000" stroke-width="1"/>
<text x="484.45" y="94.62" font-size="14.02" textLength="21.55" lengthAdjust="spacingAndGlyphs" fill="#000">0.8</text>
<line x1="509" y1="46.3" x2="512.5" y2="46.3" stroke="#000" stroke-width="1"/>
<text x="484.45" y="51.6" font-size="14.02" textLength="21.55" lengthAdjust="spacingAndGlyphs" fill="#000">1.0</text>
<text x="616.76" y="271" font-size="14.02" textLength="170.09" lengthAdjust="spacingAndGlyphs" fill="#000">Number of pairs per user</text>
<g transform="translate(479 121.4) rotate(-90)"><text x="-80.61" y="0" font-size="14.02" textLength="161.23" lengthAdjust="spacingAndGlyphs" fill="#000">Metric (M) relative error</text></g>
</g>
<g>
<clipPath id="cc"><rect x="979.6" y="3.5" width="379" height="235.8"/></clipPath>
<line x1="990.6" y1="3.5" x2="990.6" y2="239.3" stroke="#b0b0b0" stroke-width="1"/>
<line x1="1049.1" y1="3.5" x2="1049.1" y2="239.3" stroke="#b0b0b0" stroke-width="1"/>
<line x1="1107.6" y1="3.5" x2="1107.6" y2="239.3" stroke="#b0b0b0" stroke-width="1"/>
<line x1="1166.1" y1="3.5" x2="1166.1" y2="239.3" stroke="#b0b0b0" stroke-width="1"/>
<line x1="1224.6" y1="3.5" x2="1224.6" y2="239.3" stroke="#b0b0b0" stroke-width="1"/>
<line x1="1283.1" y1="3.5" x2="1283.1" y2="239.3" stroke="#b0b0b0" stroke-width="1"/>
<line x1="1341.6" y1="3.5" x2="1341.6" y2="239.3" stroke="#b0b0b0" stroke-width="1"/>
<line x1="979.6" y1="204.3" x2="1358.6" y2="204.3" stroke="#b0b0b0" stroke-width="1"/>
<line x1="979.6" y1="167.74" x2="1358.6" y2="167.74" stroke="#b0b0b0" stroke-width="1"/>
<line x1="979.6" y1="131.18" x2="1358.6" y2="131.18" stroke="#b0b0b0" stroke-width="1"/>
<line x1="979.6" y1="94.62" x2="1358.6" y2="94.62" stroke="#b0b0b0" stroke-width="1"/>
<line x1="979.6" y1="58.06" x2="1358.6" y2="58.06" stroke="#b0b0b0" stroke-width="1"/>
<line x1="979.6" y1="21.5" x2="1358.6" y2="21.5" stroke="#b0b0b0" stroke-width="1"/>
<g clip-path="url(#cc)">
<polygon points="996.45,156.89 1002.3,172.23 1008.15,178.84 1014,185.9 1019.85,192.91 1025.7,196.51 1031.55,198.9 1037.4,201.23 1043.25,203.12 1049.1,204.7 1054.95,206.66 1060.8,208.44 1066.65,210.49 1072.5,211.95 1078.35,212.59 1084.2,213.35 1090.05,213.73 1095.9,213.97 1101.75,214.55 1107.6,215.16 1113.45,215.28 1119.3,216.02 1125.15,216.65 1131,217.38 1136.85,217.88 1142.7,218.91 1148.55,219.3 1154.4,220.08 1160.25,220.4 1166.1,220.66 1171.95,221.08 1177.8,221.39 1183.65,221.33 1189.5,221.32 1195.35,221.52 1201.2,221.72 1207.05,221.73 1212.9,222.12 1218.75,222.25 1224.6,222.32 1230.45,222.19 1236.3,222.72 1242.15,222.93 1248,223.11 1253.85,223.31 1259.7,223.35 1265.55,223.35 1271.4,223.38 1277.25,223.84 1283.1,224 1288.95,224.23 1294.8,224.41 1300.65,224.32 1306.5,224.65 1312.35,225.01 1318.2,225.29 1324.05,225.09 1329.9,225.34 1335.75,225.47 1341.6,226.02 1341.6,228.22 1335.75,227.67 1329.9,227.53 1324.05,227.29 1318.2,227.49 1312.35,227.2 1306.5,226.84 1300.65,226.51 1294.8,226.6 1288.95,226.43 1283.1,226.2 1277.25,226.04 1271.4,225.57 1265.55,225.54 1259.7,225.54 1253.85,225.51 1248,225.3 1242.15,225.12 1236.3,224.91 1230.45,224.38 1224.6,224.51 1218.75,224.45 1212.9,224.31 1207.05,223.92 1201.2,223.92 1195.35,223.72 1189.5,223.52 1183.65,223.52 1177.8,223.59 1171.95,223.27 1166.1,222.85 1160.25,222.59 1154.4,222.27 1148.55,221.5 1142.7,221.1 1136.85,220.07 1131,219.57 1125.15,218.85 1119.3,218.21 1113.45,217.47 1107.6,217.35 1101.75,216.74 1095.9,216.16 1090.05,215.93 1084.2,215.54 1078.35,214.78 1072.5,214.14 1066.65,212.68 1060.8,210.63 1054.95,208.85 1049.1,206.89 1043.25,205.32 1037.4,203.42 1031.55,201.09 1025.7,198.7 1019.85,195.11 1014,188.09 1008.15,181.04 1002.3,174.42 996.45,159.08" fill="#1f77b4" fill-opacity="0.2"/>
<polygon points="996.45,162.13 1002.3,173.76 1008.15,179.66 1014,183.9 1019.85,190.95 1025.7,194.28 1031.55,197.51 1037.4,199.46 1043.25,201.74 1049.1,203.08 1054.95,204.6 1060.8,205.98 1066.65,207.46 1072.5,208.41 1078.35,209.44 1084.2,210.96 1090.05,211.67 1095.9,212.29 1101.75,213.25 1107.6,214.2 1113.45,215.04 1119.3,215.4 1125.15,216.62 1131,216.91 1136.85,217.5 1142.7,218.49 1148.55,218.93 1154.4,219.41 1160.25,219.68 1166.1,220.1 1171.95,220.05 1177.8,220.26 1183.65,220.82 1189.5,220.67 1195.35,221.32 1201.2,221.46 1207.05,221.28 1212.9,221.35 1218.75,221.49 1224.6,221.56 1230.45,221.81 1236.3,222.33 1242.15,222.23 1248,222.29 1253.85,222.95 1259.7,222.88 1265.55,223.25 1271.4,223.43 1277.25,223.39 1283.1,223.45 1288.95,223.44 1294.8,224.09 1300.65,224.04 1306.5,223.91 1312.35,224.2 1318.2,224.5 1324.05,224.83 1329.9,224.76 1335.75,225.13 1341.6,225.06 1341.6,227.25 1335.75,227.32 1329.9,226.95 1324.05,227.02 1318.2,226.69 1312.35,226.4 1306.5,226.1 1300.65,226.23 1294.8,226.29 1288.95,225.63 1283.1,225.64 1277.25,225.59 1271.4,225.62 1265.55,225.44 1259.7,225.08 1253.85,225.14 1248,224.48 1242.15,224.42 1236.3,224.53 1230.45,224.01 1224.6,223.75 1218.75,223.69 1212.9,223.54 1207.05,223.47 1201.2,223.65 1195.35,223.51 1189.5,222.86 1183.65,223.02 1177.8,222.46 1171.95,222.25 1166.1,222.29 1160.25,221.87 1154.4,221.61 1148.55,221.12 1142.7,220.69 1136.85,219.69 1131,219.1 1125.15,218.82 1119.3,217.6 1113.45,217.24 1107.6,216.4 1101.75,215.44 1095.9,214.49 1090.05,213.87 1084.2,213.16 1078.35,211.63 1072.5,210.6 1066.65,209.66 1060.8,208.17 1054.95,206.79 1049.1,205.28 1043.25,203.93 1037.4,201.65 1031.55,199.71 1025.7,196.47 1019.85,193.15 1014,186.09 1008.15,181.85 1002.3,175.95 996.45,164.33" fill="#2ca02c" fill-opacity="0.2"/>
<polygon points="996.45,98.67 1002.3,104.91 1008.15,113.2 1014,114.83 1019.85,121.21 1025.7,130.41 1031.55,144.07 1037.4,149.57 1043.25,157.49 1049.1,165.56 1054.95,175.54 1060.8,182.17 1066.65,186.45 1072.5,190.04 1078.35,193.24 1084.2,195.44 1090.05,197.67 1095.9,199.99 1101.75,201.04 1107.6,202.77 1113.45,204.28 1119.3,205.61 1125.15,206.31 1131,207.62 1136.85,208.42 1142.7,209.53 1148.55,210.33 1154.4,211.51 1160.25,212.24 1166.1,213.08 1171.95,214.09 1177.8,214.31 1183.65,215.49 1189.5,215.82 1195.35,216.34 1201.2,217.16 1207.05,218.08 1212.9,218.07 1218.75,218.62 1224.6,219.34 1230.45,219.74 1236.3,219.66 1242.15,220.27 1248,219.84 1253.85,220.35 1259.7,220.54 1265.55,220.82 1271.4,220.83 1277.25,220.86 1283.1,221.53 1288.95,221.73 1294.8,221.82 1300.65,222.28 1306.5,222.32 1312.35,222.61 1318.2,222.95 1324.05,223.04 1329.9,223.41 1335.75,224 1341.6,223.61 1341.6,225.8 1335.75,226.21 1329.9,225.64 1324.05,225.29 1318.2,225.22 1312.35,224.9 1306.5,224.62 1300.65,224.6 1294.8,224.16 1288.95,224.09 1283.1,223.91 1277.25,223.25 1271.4,223.24 1265.55,223.25 1259.7,222.99 1253.85,222.82 1248,222.33 1242.15,222.78 1236.3,222.19 1230.45,222.29 1224.6,221.9 1218.75,221.2 1212.9,220.67 1207.05,220.69 1201.2,219.79 1195.35,218.99 1189.5,218.49 1183.65,218.17 1177.8,217.01 1171.95,216.81 1166.1,215.83 1160.25,215 1154.4,214.29 1148.55,213.13 1142.7,212.35 1136.85,211.25 1131,210.47 1125.15,209.18 1119.3,208.5 1113.45,207.19 1107.6,205.7 1101.75,204.24 1095.9,203.47 1090.05,201.42 1084.2,199.46 1078.35,197.54 1072.5,194.61 1066.65,191.29 1060.8,187.29 1054.95,181.21 1049.1,171.77 1043.25,164.26 1037.4,156.88 1031.55,151.7 1025.7,138.35 1019.85,129.46 1014,123.4 1008.15,122.07 1002.3,114.1 996.45,108.18" fill="#ff7f0e" fill-opacity="0.2"/>
<polygon points="996.45,15.21 1002.3,19.14 1008.15,19.19 1014,22.98 1019.85,42.83 1025.7,67.07 1031.55,83.02 1037.4,104.36 1043.25,123.25 1049.1,129.22 1054.95,142.83 1060.8,148.45 1066.65,153.04 1072.5,160.02 1078.35,166.19 1084.2,171.63 1090.05,174.27 1095.9,176.43 1101.75,177.29 1107.6,179.3 1113.45,181.15 1119.3,183.35 1125.15,185.71 1131,187.03 1136.85,188.22 1142.7,189.76 1148.55,190.14 1154.4,191.69 1160.25,192.87 1166.1,193.29 1171.95,194.89 1177.8,195.15 1183.65,196.52 1189.5,197.37 1195.35,198.46 1201.2,199.23 1207.05,200.35 1212.9,201.32 1218.75,201.4 1224.6,202.74 1230.45,203.03 1236.3,204.3 1242.15,204.39 1248,205.2 1253.85,206.05 1259.7,206.73 1265.55,207.54 1271.4,208.01 1277.25,209.09 1283.1,209.27 1288.95,209.41 1294.8,210.4 1300.65,210.18 1306.5,210.61 1312.35,211.4 1318.2,211.79 1324.05,212.03 1329.9,212.36 1335.75,212.07 1341.6,212.81 1341.6,215.73 1335.75,215.03 1329.9,215.35 1324.05,215.05 1318.2,214.84 1312.35,214.49 1306.5,213.73 1300.65,213.34 1294.8,213.59 1288.95,212.64 1283.1,212.53 1277.25,212.39 1271.4,211.34 1265.55,210.9 1259.7,210.12 1253.85,209.47 1248,208.66 1242.15,207.88 1236.3,207.82 1230.45,206.59 1224.6,206.33 1218.75,205.02 1212.9,204.97 1207.05,204.04 1201.2,202.95 1195.35,202.22 1189.5,201.16 1183.65,200.35 1177.8,199.01 1171.95,198.77 1166.1,197.21 1160.25,196.83 1154.4,195.67 1148.55,194.16 1142.7,193.82 1136.85,192.31 1131,191.16 1125.15,189.86 1119.3,187.54 1113.45,185.37 1107.6,183.55 1101.75,181.58 1095.9,180.75 1090.05,178.62 1084.2,176.02 1078.35,171.07 1072.5,165.38 1066.65,158.89 1060.8,154.78 1054.95,149.65 1049.1,136.53 1043.25,131.78 1037.4,114.11 1031.55,93.98 1025.7,79.25 1019.85,56.24 1014,37.6 1008.15,33.81 1002.3,33.76 996.45,29.84" fill="#d62728" fill-opacity="0.2"/>
<polyline points="996.45,157.99 1002.3,173.33 1008.15,179.94 1014,186.99 1019.85,194.01 1025.7,197.61 1031.55,199.99 1037.4,202.32 1043.25,204.22 1049.1,205.79 1054.95,207.76 1060.8,209.53 1066.65,211.58 1072.5,213.05 1078.35,213.68 1084.2,214.44 1090.05,214.83 1095.9,215.07 1101.75,215.65 1107.6,216.26 1113.45,216.38 1119.3,217.11 1125.15,217.75 1131,218.47 1136.85,218.97 1142.7,220.01 1148.55,220.4 1154.4,221.18 1160.25,221.5 1166.1,221.75 1171.95,222.17 1177.8,222.49 1183.65,222.42 1189.5,222.42 1195.35,222.62 1201.2,222.82 1207.05,222.82 1212.9,223.21 1218.75,223.35 1224.6,223.41 1230.45,223.29 1236.3,223.81 1242.15,224.03 1248,224.2 1253.85,224.41 1259.7,224.44 1265.55,224.44 1271.4,224.48 1277.25,224.94 1283.1,225.1 1288.95,225.33 1294.8,225.51 1300.65,225.42 1306.5,225.74 1312.35,226.11 1318.2,226.39 1324.05,226.19 1329.9,226.44 1335.75,226.57 1341.6,227.12" fill="none" stroke="#1f77b4" stroke-width="1.55" stroke-linejoin="round"/>
<polyline points="996.45,163.23 1002.3,174.85 1008.15,180.76 1014,185 1019.85,192.05 1025.7,195.38 1031.55,198.61 1037.4,200.55 1043.25,202.84 1049.1,204.18 1054.95,205.7 1060.8,207.08 1066.65,208.56 1072.5,209.5 1078.35,210.53 1084.2,212.06 1090.05,212.77 1095.9,213.39 1101.75,214.35 1107.6,215.3 1113.45,216.14 1119.3,216.5 1125.15,217.72 1131,218.01 1136.85,218.6 1142.7,219.59 1148.55,220.03 1154.4,220.51 1160.25,220.77 1166.1,221.2 1171.95,221.15 1177.8,221.36 1183.65,221.92 1189.5,221.76 1195.35,222.41 1201.2,222.55 1207.05,222.37 1212.9,222.45 1218.75,222.59 1224.6,222.66 1230.45,222.91 1236.3,223.43 1242.15,223.32 1248,223.39 1253.85,224.04 1259.7,223.98 1265.55,224.35 1271.4,224.52 1277.25,224.49 1283.1,224.55 1288.95,224.53 1294.8,225.19 1300.65,225.13 1306.5,225.01 1312.35,225.3 1318.2,225.6 1324.05,225.92 1329.9,225.85 1335.75,226.22 1341.6,226.15" fill="none" stroke="#2ca02c" stroke-width="1.55" stroke-linejoin="round"/>
<polyline points="996.45,103.42 1002.3,109.51 1008.15,117.64 1014,119.12 1019.85,125.34 1025.7,134.38 1031.55,147.89 1037.4,153.23 1043.25,160.87 1049.1,168.67 1054.95,178.37 1060.8,184.73 1066.65,188.87 1072.5,192.32 1078.35,195.39 1084.2,197.45 1090.05,199.55 1095.9,201.73 1101.75,202.64 1107.6,204.23 1113.45,205.74 1119.3,207.06 1125.15,207.74 1131,209.05 1136.85,209.83 1142.7,210.94 1148.55,211.73 1154.4,212.9 1160.25,213.62 1166.1,214.45 1171.95,215.45 1177.8,215.66 1183.65,216.83 1189.5,217.16 1195.35,217.66 1201.2,218.47 1207.05,219.38 1212.9,219.37 1218.75,219.91 1224.6,220.62 1230.45,221.01 1236.3,220.93 1242.15,221.52 1248,221.08 1253.85,221.59 1259.7,221.77 1265.55,222.03 1271.4,222.04 1277.25,222.05 1283.1,222.72 1288.95,222.91 1294.8,222.99 1300.65,223.44 1306.5,223.47 1312.35,223.75 1318.2,224.08 1324.05,224.16 1329.9,224.52 1335.75,225.11 1341.6,224.7" fill="none" stroke="#ff7f0e" stroke-width="1.55" stroke-linejoin="round"/>
<polyline points="996.45,22.53 1002.3,26.45 1008.15,26.5 1014,30.29 1019.85,49.53 1025.7,73.16 1031.55,88.5 1037.4,109.23 1043.25,127.52 1049.1,132.87 1054.95,146.24 1060.8,151.61 1066.65,155.97 1072.5,162.7 1078.35,168.63 1084.2,173.82 1090.05,176.45 1095.9,178.59 1101.75,179.44 1107.6,181.42 1113.45,183.26 1119.3,185.45 1125.15,187.79 1131,189.09 1136.85,190.27 1142.7,191.79 1148.55,192.15 1154.4,193.68 1160.25,194.85 1166.1,195.25 1171.95,196.83 1177.8,197.08 1183.65,198.43 1189.5,199.26 1195.35,200.34 1201.2,201.09 1207.05,202.19 1212.9,203.15 1218.75,203.21 1224.6,204.53 1230.45,204.81 1236.3,206.06 1242.15,206.14 1248,206.93 1253.85,207.76 1259.7,208.42 1265.55,209.22 1271.4,209.67 1277.25,210.74 1283.1,210.9 1288.95,211.03 1294.8,211.99 1300.65,211.76 1306.5,212.17 1312.35,212.95 1318.2,213.32 1324.05,213.54 1329.9,213.86 1335.75,213.55 1341.6,214.27" fill="none" stroke="#d62728" stroke-width="1.55" stroke-linejoin="round"/>
</g>
<rect x="1189.6" y="10.4" width="161.7" height="83.5" rx="2" fill="#fff" fill-opacity="0.8" stroke="#cccccc" stroke-width="1"/>
<line x1="1193" y1="21.4" x2="1223" y2="21.4" stroke="#1f77b4" stroke-width="2.6"/>
<text x="1233.4" y="26.2" font-size="14.02" textLength="77.35" lengthAdjust="spacingAndGlyphs" fill="#000">Nuclear full</text>
<line x1="1193" y1="41.35" x2="1223" y2="41.35" stroke="#2ca02c" stroke-width="2.6"/>
<text x="1233.4" y="46.15" font-size="14.02" textLength="84.96" lengthAdjust="spacingAndGlyphs" fill="#000">Nuclear split</text>
<line x1="1193" y1="61.3" x2="1223" y2="61.3" stroke="#ff7f0e" stroke-width="2.6"/>
<text x="1233.4" y="66.1" font-size="14.02" textLength="100.09" lengthAdjust="spacingAndGlyphs" fill="#000">Nuclear metric</text>
<line x1="1193" y1="81.25" x2="1223" y2="81.25" stroke="#d62728" stroke-width="2.6"/>
<text x="1233.4" y="86.05" font-size="14.02" textLength="113.25" lengthAdjust="spacingAndGlyphs" fill="#000">Frobenius metric</text>
<rect x="979.6" y="3.5" width="379" height="235.8" fill="none" stroke="#000" stroke-width="1"/>
<line x1="990.6" y1="239.3" x2="990.6" y2="242.8" stroke="#000" stroke-width="1"/>
<text x="986.29" y="255.5" font-size="14.02" textLength="8.62" lengthAdjust="spacingAndGlyphs" fill="#000">0</text>
<line x1="1049.1" y1="239.3" x2="1049.1" y2="242.8" stroke="#000" stroke-width="1"/>
<text x="1040.48" y="255.5" font-size="14.02" textLength="17.24" lengthAdjust="spacingAndGlyphs" fill="#000">50</text>
<line x1="1107.6" y1="239.3" x2="1107.6" y2="242.8" stroke="#000" stroke-width="1"/>
<text x="1094.67" y="255.5" font-size="14.02" textLength="25.86" lengthAdjust="spacingAndGlyphs" fill="#000">100</text>
<line x1="1166.1" y1="239.3" x2="1166.1" y2="242.8" stroke="#000" stroke-width="1"/>
<text x="1153.17" y="255.5" font-size="14.02" textLength="25.86" lengthAdjust="spacingAndGlyphs" fill="#000">150</text>
<line x1="1224.6" y1="239.3" x2="1224.6" y2="242.8" stroke="#000" stroke-width="1"/>
<text x="1211.67" y="255.5" font-size="14.02" textLength="25.86" lengthAdjust="spacingAndGlyphs" fill="#000">200</text>
<line x1="1283.1" y1="239.3" x2="1283.1" y2="242.8" stroke="#000" stroke-width="1"/>
<text x="1270.17" y="255.5" font-size="14.02" textLength="25.86" lengthAdjust="spacingAndGlyphs" fill="#000">250</text>
<line x1="1341.6" y1="239.3" x2="1341.6" y2="242.8" stroke="#000" stroke-width="1"/>
<text x="1328.67" y="255.5" font-size="14.02" textLength="25.86" lengthAdjust="spacingAndGlyphs" fill="#000">300</text>
<line x1="976.1" y1="204.3" x2="979.6" y2="204.3" stroke="#000" stroke-width="1"/>
<text x="951.45" y="209.3" font-size="14.02" textLength="21.55" lengthAdjust="spacingAndGlyphs" fill="#000">0.5</text>
<line x1="976.1" y1="167.74" x2="979.6" y2="167.74" stroke="#000" stroke-width="1"/>
<text x="951.45" y="172.74" font-size="14.02" textLength="21.55" lengthAdjust="spacingAndGlyphs" fill="#000">1.0</text>
<line x1="976.1" y1="131.18" x2="979.6" y2="131.18" stroke="#000" stroke-width="1"/>
<text x="951.45" y="136.18" font-size="14.02" textLength="21.55" lengthAdjust="spacingAndGlyphs" fill="#000">1.5</text>
<line x1="976.1" y1="94.62" x2="979.6" y2="94.62" stroke="#000" stroke-width="1"/>
<text x="951.45" y="99.62" font-size="14.02" textLength="21.55" lengthAdjust="spacingAndGlyphs" fill="#000">2.0</text>
<line x1="976.1" y1="58.06" x2="979.6" y2="58.06" stroke="#000" stroke-width="1"/>
<text x="951.45" y="63.06" font-size="14.02" textLength="21.55" lengthAdjust="spacingAndGlyphs" fill="#000">2.5</text>
<line x1="976.1" y1="21.5" x2="979.6" y2="21.5" stroke="#000" stroke-width="1"/>
<text x="951.45" y="26.5" font-size="14.02" textLength="21.55" lengthAdjust="spacingAndGlyphs" fill="#000">3.0</text>
<text x="1083.96" y="271" font-size="14.02" textLength="170.09" lengthAdjust="spacingAndGlyphs" fill="#000">Number of pairs per user</text>
<g transform="translate(946 121.4) rotate(-90)"><text x="-93.93" y="0" font-size="14.02" textLength="187.87" lengthAdjust="spacingAndGlyphs" fill="#000">Ideal point (u) relative error</text></g>
</g>
<g>
<clipPath id="cd"><rect x="119.5" y="397.3" width="501.8" height="311.3"/></clipPath>
<line x1="135.7" y1="397.3" x2="135.7" y2="708.6" stroke="#b0b0b0" stroke-width="1"/>
<line x1="212.98" y1="397.3" x2="212.98" y2="708.6" stroke="#b0b0b0" stroke-width="1"/>
<line x1="290.27" y1="397.3" x2="290.27" y2="708.6" stroke="#b0b0b0" stroke-width="1"/>
<line x1="367.55" y1="397.3" x2="367.55" y2="708.6" stroke="#b0b0b0" stroke-width="1"/>
<line x1="444.83" y1="397.3" x2="444.83" y2="708.6" stroke="#b0b0b0" stroke-width="1"/>
<line x1="522.12" y1="397.3" x2="522.12" y2="708.6" stroke="#b0b0b0" stroke-width="1"/>
<line x1="599.4" y1="397.3" x2="599.4" y2="708.6" stroke="#b0b0b0" stroke-width="1"/>
<line x1="119.5" y1="684.3" x2="621.3" y2="684.3" stroke="#b0b0b0" stroke-width="1"/>
<line x1="119.5" y1="638.18" x2="621.3" y2="638.18" stroke="#b0b0b0" stroke-width="1"/>
<line x1="119.5" y1="592.06" x2="621.3" y2="592.06" stroke="#b0b0b0" stroke-width="1"/>
<line x1="119.5" y1="545.95" x2="621.3" y2="545.95" stroke="#b0b0b0" stroke-width="1"/>
<line x1="119.5" y1="499.83" x2="621.3" y2="499.83" stroke="#b0b0b0" stroke-width="1"/>
<line x1="119.5" y1="453.72" x2="621.3" y2="453.72" stroke="#b0b0b0" stroke-width="1"/>
<line x1="119.5" y1="407.6" x2="621.3" y2="407.6" stroke="#b0b0b0" stroke-width="1"/>
<g clip-path="url(#cd)">
<polygon points="143.43,627.51 151.16,595.56 158.88,577.76 166.61,570.17 174.34,563.22 182.07,560.3 189.8,549.75 197.53,548.66 205.25,543.92 212.98,543.61 220.71,541.62 228.44,540.24 236.17,535.38 243.9,534.85 251.62,531.45 259.35,532.02 267.08,529.61 274.81,527 282.54,525.43 290.27,527.38 298,522.95 305.72,524.16 313.45,524.11 321.18,521.88 328.91,520.37 336.64,520.99 344.37,520.61 352.09,520.51 359.82,518.42 367.55,514.7 375.28,517.1 383.01,514.77 390.73,514.76 398.46,512.6 406.19,512.48 413.92,513.59 421.65,512.56 429.38,510.66 437.1,509.67 444.83,509.1 452.56,509.39 460.29,509.27 468.02,508.51 475.75,508.42 483.47,510.89 491.2,506.31 498.93,508.78 506.66,508.77 514.39,509.53 522.12,508.42 529.85,509.49 537.57,507.61 545.3,507.62 553.03,507.45 560.76,505.4 568.49,506.38 576.21,507.17 583.94,505.88 591.67,507.12 599.4,505.28 599.4,525.96 591.67,525.24 583.94,526.42 576.21,524.95 568.49,525.33 560.76,526.7 553.03,528.03 545.3,528.77 537.57,528.59 529.85,528.2 522.12,529.45 514.39,529.77 506.66,528.92 498.93,528.91 491.2,528.46 483.47,530.67 475.75,528.75 468.02,532.01 460.29,529 452.56,529.19 444.83,532.05 437.1,530.54 429.38,533.01 421.65,531.44 413.92,532.52 406.19,533.37 398.46,534.51 390.73,533.69 383.01,537.53 375.28,536.47 367.55,539.11 359.82,538.24 352.09,541.77 344.37,540.67 336.64,542.09 328.91,541.93 321.18,542.59 313.45,546.39 305.72,546.99 298,545.79 290.27,546.76 282.54,550.75 274.81,552.04 267.08,552.44 259.35,552.34 251.62,555.31 243.9,556.68 236.17,559.45 228.44,561.2 220.71,565.49 212.98,568.21 205.25,573.75 197.53,582.74 189.8,593.18 182.07,603.43 174.34,611.72 166.61,620.56 158.88,637.2 151.16,657.16 143.43,699.14" fill="#ff7f0e" fill-opacity="0.2"/>
<polygon points="143.43,592.09 151.16,556.81 158.88,529.87 166.61,520.24 174.34,512.65 182.07,511.47 189.8,504.19 197.53,496.4 205.25,489.51 212.98,483.58 220.71,479.26 228.44,478.89 236.17,476.96 243.9,471.88 251.62,469.74 259.35,467.87 267.08,467.57 274.81,463.46 282.54,464.38 290.27,463.17 298,463.02 305.72,461.43 313.45,462.08 321.18,459.55 328.91,458.77 336.64,456.93 344.37,457.78 352.09,456.57 359.82,455.38 367.55,456.68 375.28,455.84 383.01,454.38 390.73,452.62 398.46,452.19 406.19,451.87 413.92,449.18 421.65,447.84 429.38,447.59 437.1,449.34 444.83,449.39 452.56,445.65 460.29,448.25 468.02,446.95 475.75,447.68 483.47,444.67 491.2,442.98 498.93,443.87 506.66,445.2 514.39,442.53 522.12,443.47 529.85,444.15 537.57,444.54 545.3,443.31 553.03,444.03 560.76,443.88 568.49,443.82 576.21,445.47 583.94,445.59 591.67,444.02 599.4,445.38 599.4,460.96 591.67,458.22 583.94,460.89 576.21,459.34 568.49,459.55 560.76,459.89 553.03,459.66 545.3,460.76 537.57,461.65 529.85,460.69 522.12,461.64 514.39,461.09 506.66,460.49 498.93,460.8 491.2,461.75 483.47,464.98 475.75,465.86 468.02,463.31 460.29,464.81 452.56,465.65 444.83,467.76 437.1,467.01 429.38,468.13 421.65,467.55 413.92,469.25 406.19,472.64 398.46,469.65 390.73,471.78 383.01,474.21 375.28,473.72 367.55,475.74 359.82,475.61 352.09,478.47 344.37,480.64 336.64,478.81 328.91,479.28 321.18,480.41 313.45,481.43 305.72,483.94 298,485.78 290.27,485.73 282.54,486.16 274.81,489.74 267.08,492.29 259.35,490.83 251.62,492.8 243.9,496.92 236.17,499.97 228.44,500.11 220.71,503.94 212.98,507.88 205.25,513.63 197.53,525.68 189.8,536.44 182.07,543.71 174.34,555.87 166.61,569.79 158.88,583.61 151.16,612.47 143.43,647.86" fill="#1f77b4" fill-opacity="0.2"/>
<polygon points="143.43,604.16 151.16,557.18 158.88,534.07 166.61,524.95 174.34,515.6 182.07,509.24 189.8,497.94 197.53,486.71 205.25,478.7 212.98,470.89 220.71,463.57 228.44,461.34 236.17,455.94 243.9,452.51 251.62,451.29 259.35,447.99 267.08,446.96 274.81,445.79 282.54,442.92 290.27,440.91 298,439.26 305.72,439.59 313.45,437.95 321.18,434.91 328.91,435.86 336.64,434.09 344.37,432.63 352.09,431.31 359.82,430.1 367.55,428.69 375.28,428.53 383.01,428.08 390.73,425.1 398.46,424.49 406.19,424.57 413.92,422.64 421.65,422.28 429.38,420.39 437.1,419.01 444.83,417.91 452.56,420.14 460.29,418.15 468.02,418.22 475.75,417.09 483.47,417.49 491.2,417.19 498.93,414.73 506.66,416.38 514.39,414.55 522.12,414.02 529.85,412.18 537.57,412.71 545.3,414.83 553.03,414.23 560.76,413.14 568.49,412.13 576.21,411.31 583.94,413.64 591.67,412.71 599.4,413.15 599.4,429.74 591.67,427.4 583.94,428.65 576.21,427.39 568.49,428.26 560.76,428.97 553.03,430.41 545.3,428.36 537.57,427.85 529.85,430.77 522.12,430.63 514.39,431.49 506.66,432.16 498.93,432.69 491.2,433.93 483.47,433.62 475.75,435.84 468.02,435.78 460.29,435.9 452.56,435.48 444.83,436.37 437.1,439.68 429.38,437.19 421.65,437.57 413.92,439.78 406.19,442.22 398.46,443.57 390.73,445.4 383.01,447.42 375.28,447.62 367.55,445.39 359.82,447.24 352.09,450.96 344.37,453.33 336.64,453.11 328.91,456.3 321.18,453.83 313.45,455.74 305.72,458.62 298,460.11 290.27,463.3 282.54,463.55 274.81,466.4 267.08,467.66 259.35,470.12 251.62,472.54 243.9,476.12 236.17,477.24 228.44,483.48 220.71,488.04 212.98,492.6 205.25,503.23 197.53,510.74 189.8,526.12 182.07,537.25 174.34,551.06 166.61,563.87 158.88,580.16 151.16,610.24 143.43,661.57" fill="#2ca02c" fill-opacity="0.2"/>
<polyline points="143.43,663.45 151.16,626.47 158.88,607.77 166.61,596.98 174.34,588.65 182.07,581.15 189.8,571.95 197.53,564.83 205.25,559 212.98,555.24 220.71,552.78 228.44,549.91 236.17,548.07 243.9,545.77 251.62,543.03 259.35,541.79 267.08,540.75 274.81,539.39 282.54,537.89 290.27,537.34 298,535.47 305.72,534.24 313.45,533.67 321.18,532.13 328.91,531.09 336.64,530.72 344.37,529.69 352.09,529.64 359.82,528.91 367.55,526.84 375.28,527 383.01,526.3 390.73,524.56 398.46,523.98 406.19,524.1 413.92,523.11 421.65,522.55 429.38,521.9 437.1,521.73 444.83,520.55 452.56,520.46 460.29,519.97 468.02,519.92 475.75,519.72 483.47,519.53 491.2,518.1 498.93,518.01 506.66,518.02 514.39,518.36 522.12,518.07 529.85,517.85 537.57,517.33 545.3,517.44 553.03,516.9 560.76,516.76 568.49,516.55 576.21,515.69 583.94,515.75 591.67,515.52 599.4,515.48" fill="none" stroke="#ff7f0e" stroke-width="2.2" stroke-linejoin="round"/>
<polyline points="143.43,620.32 151.16,584.16 158.88,557.75 166.61,545.39 174.34,534.42 182.07,527.2 189.8,520.08 197.53,511.35 205.25,502.49 212.98,496.34 220.71,492.55 228.44,490.08 236.17,487.75 243.9,485.25 251.62,481.72 259.35,480.69 267.08,479.18 274.81,476.7 282.54,475.22 290.27,474 298,472.7 305.72,472.68 313.45,471.85 321.18,470.86 328.91,468.78 336.64,469.12 344.37,468.21 352.09,467.58 359.82,466.71 367.55,465.88 375.28,464.6 383.01,464 390.73,462.95 398.46,461.25 406.19,461.47 413.92,459.78 421.65,459.11 429.38,458.62 437.1,457.93 444.83,457.03 452.56,456.68 460.29,456.57 468.02,455.83 475.75,455.37 483.47,454.61 491.2,453.29 498.93,453.61 506.66,453.71 514.39,452.83 522.12,452.13 529.85,452.46 537.57,451.92 545.3,452.61 553.03,452.49 560.76,451.53 568.49,452.26 576.21,451.82 583.94,451.63 591.67,451.85 599.4,452.05" fill="none" stroke="#1f77b4" stroke-width="2.2" stroke-linejoin="round"/>
<polyline points="143.43,632.86 151.16,584.3 158.88,557.63 166.61,543.39 174.34,532.61 182.07,523.43 189.8,511.71 197.53,499.48 205.25,490.53 212.98,481.74 220.71,476.4 228.44,472.67 236.17,467.75 243.9,463.87 251.62,460.75 259.35,457.6 267.08,456.86 274.81,455.23 282.54,452.36 290.27,451.54 298,450.31 305.72,448.71 313.45,447.32 321.18,445.18 328.91,444.89 336.64,443.54 344.37,441.68 352.09,440.41 359.82,438.59 367.55,437.57 375.28,437.12 383.01,436.22 390.73,434.27 398.46,433.01 406.19,433.32 413.92,431.37 421.65,430.26 429.38,429.69 437.1,429.48 444.83,427.94 452.56,427.34 460.29,427.4 468.02,426.13 475.75,426.09 483.47,425.75 491.2,424.79 498.93,424.28 506.66,423.73 514.39,422.97 522.12,422.35 529.85,421.86 537.57,421.52 545.3,421.2 553.03,421.2 560.76,421.61 568.49,421.56 576.21,420.74 583.94,420.67 591.67,420.36 599.4,421.07" fill="none" stroke="#2ca02c" stroke-width="2.2" stroke-linejoin="round"/>
</g>
<rect x="388.3" y="616.2" width="224.4" height="82.9" rx="2" fill="#fff" fill-opacity="0.8" stroke="#cccccc" stroke-width="1"/>
<line x1="393.2" y1="629.4" x2="433.2" y2="629.4" stroke="#ff7f0e" stroke-width="2.8"/>
<text x="446.4" y="636" font-size="18.73" textLength="90.74" lengthAdjust="spacingAndGlyphs" fill="#000">Identity M</text>
<line x1="393.2" y1="656.2" x2="433.2" y2="656.2" stroke="#1f77b4" stroke-width="2.8"/>
<text x="446.4" y="662.8" font-size="18.73" textLength="160.46" lengthAdjust="spacingAndGlyphs" fill="#000">Learned M, crowd</text>
<line x1="393.2" y1="682.8" x2="433.2" y2="682.8" stroke="#2ca02c" stroke-width="2.8"/>
<text x="446.4" y="689.4" font-size="18.73" textLength="159.68" lengthAdjust="spacingAndGlyphs" fill="#000">Learned M, single</text>
<rect x="119.5" y="397.3" width="501.8" height="311.3" fill="none" stroke="#000" stroke-width="1.2"/>
<line x1="135.7" y1="708.6" x2="135.7" y2="712.2" stroke="#000" stroke-width="1.2"/>
<text x="129.94" y="731" font-size="18.73" textLength="11.52" lengthAdjust="spacingAndGlyphs" fill="#000">0</text>
<line x1="212.98" y1="708.6" x2="212.98" y2="712.2" stroke="#000" stroke-width="1.2"/>
<text x="201.47" y="731" font-size="18.73" textLength="23.03" lengthAdjust="spacingAndGlyphs" fill="#000">50</text>
<line x1="290.27" y1="708.6" x2="290.27" y2="712.2" stroke="#000" stroke-width="1.2"/>
<text x="272.99" y="731" font-size="18.73" textLength="34.55" lengthAdjust="spacingAndGlyphs" fill="#000">100</text>
<line x1="367.55" y1="708.6" x2="367.55" y2="712.2" stroke="#000" stroke-width="1.2"/>
<text x="350.28" y="731" font-size="18.73" textLength="34.55" lengthAdjust="spacingAndGlyphs" fill="#000">150</text>
<line x1="444.83" y1="708.6" x2="444.83" y2="712.2" stroke="#000" stroke-width="1.2"/>
<text x="427.56" y="731" font-size="18.73" textLength="34.55" lengthAdjust="spacingAndGlyphs" fill="#000">200</text>
<line x1="522.12" y1="708.6" x2="522.12" y2="712.2" stroke="#000" stroke-width="1.2"/>
<text x="504.84" y="731" font-size="18.73" textLength="34.55" lengthAdjust="spacingAndGlyphs" fill="#000">250</text>
<line x1="599.4" y1="708.6" x2="599.4" y2="712.2" stroke="#000" stroke-width="1.2"/>
<text x="582.13" y="731" font-size="18.73" textLength="34.55" lengthAdjust="spacingAndGlyphs" fill="#000">300</text>
<line x1="115.9" y1="684.3" x2="119.5" y2="684.3" stroke="#000" stroke-width="1.2"/>
<text x="71.3" y="691.9" font-size="18.73" textLength="40.3" lengthAdjust="spacingAndGlyphs" fill="#000">0.52</text>
<line x1="115.9" y1="638.18" x2="119.5" y2="638.18" stroke="#000" stroke-width="1.2"/>
<text x="71.3" y="645.78" font-size="18.73" textLength="40.3" lengthAdjust="spacingAndGlyphs" fill="#000">0.54</text>
<line x1="115.9" y1="592.06" x2="119.5" y2="592.06" stroke="#000" stroke-width="1.2"/>
<text x="71.3" y="599.66" font-size="18.73" textLength="40.3" lengthAdjust="spacingAndGlyphs" fill="#000">0.56</text>
<line x1="115.9" y1="545.95" x2="119.5" y2="545.95" stroke="#000" stroke-width="1.2"/>
<text x="71.3" y="553.55" font-size="18.73" textLength="40.3" lengthAdjust="spacingAndGlyphs" fill="#000">0.58</text>
<line x1="115.9" y1="499.83" x2="119.5" y2="499.83" stroke="#000" stroke-width="1.2"/>
<text x="71.3" y="507.43" font-size="18.73" textLength="40.3" lengthAdjust="spacingAndGlyphs" fill="#000">0.60</text>
<line x1="115.9" y1="453.72" x2="119.5" y2="453.72" stroke="#000" stroke-width="1.2"/>
<text x="71.3" y="461.32" font-size="18.73" textLength="40.3" lengthAdjust="spacingAndGlyphs" fill="#000">0.62</text>
<line x1="115.9" y1="407.6" x2="119.5" y2="407.6" stroke="#000" stroke-width="1.2"/>
<text x="71.3" y="415.2" font-size="18.73" textLength="40.3" lengthAdjust="spacingAndGlyphs" fill="#000">0.64</text>
<text x="257.3" y="752.5" font-size="18.73" textLength="227.2" lengthAdjust="spacingAndGlyphs" fill="#000">Number of pairs per user</text>
<g transform="translate(63.6 552) rotate(-90)"><text x="-61.53" y="0" font-size="18.73" textLength="123.06" lengthAdjust="spacingAndGlyphs" fill="#000">Test accuracy</text></g>
</g>
<rect x="877" y="396.7" width="95.63" height="96" fill="rgb(253,231,36)"/>
<rect x="972.33" y="396.7" width="95.63" height="96" fill="rgb(31,150,139)"/>
<rect x="1067.67" y="396.7" width="95.63" height="96" fill="rgb(68,1,84)"/>
<rect x="877" y="492.4" width="95.63" height="96" fill="rgb(31,150,139)"/>
<rect x="972.33" y="492.4" width="95.63" height="96" fill="rgb(45,110,142)"/>
<rect x="1067.67" y="492.4" width="95.63" height="96" fill="rgb(64,67,135)"/>
<rect x="877" y="588.1" width="95.63" height="96" fill="rgb(68,1,84)"/>
<rect x="972.33" y="588.1" width="95.63" height="96" fill="rgb(64,67,135)"/>
<rect x="1067.67" y="588.1" width="95.63" height="96" fill="rgb(41,120,142)"/>
<rect x="877" y="396.7" width="286" height="287.1" fill="none" stroke="#000" stroke-width="1"/>
<line x1="872.5" y1="444.55" x2="877" y2="444.55" stroke="#000" stroke-width="1"/>
<line x1="924.67" y1="683.8" x2="924.67" y2="688.3" stroke="#000" stroke-width="1"/>
<line x1="872.5" y1="540.25" x2="877" y2="540.25" stroke="#000" stroke-width="1"/>
<line x1="1020" y1="683.8" x2="1020" y2="688.3" stroke="#000" stroke-width="1"/>
<line x1="872.5" y1="635.95" x2="877" y2="635.95" stroke="#000" stroke-width="1"/>
<line x1="1115.33" y1="683.8" x2="1115.33" y2="688.3" stroke="#000" stroke-width="1"/>
<defs><linearGradient id="vir" x1="0" y1="1" x2="0" y2="0">
<stop offset="0" stop-color="rgb(68,1,84)"/>
<stop offset="0.05" stop-color="rgb(71,18,101)"/>
<stop offset="0.1" stop-color="rgb(72,35,116)"/>
<stop offset="0.15" stop-color="rgb(69,52,127)"/>
<stop offset="0.2" stop-color="rgb(64,67,135)"/>
<stop offset="0.25" stop-color="rgb(58,82,139)"/>
<stop offset="0.3" stop-color="rgb(52,94,141)"/>
<stop offset="0.35" stop-color="rgb(46,107,142)"/>
<stop offset="0.4" stop-color="rgb(41,120,142)"/>
<stop offset="0.45" stop-color="rgb(36,132,141)"/>
<stop offset="0.5" stop-color="rgb(32,144,140)"/>
<stop offset="0.55" stop-color="rgb(30,155,137)"/>
<stop offset="0.6" stop-color="rgb(34,167,132)"/>
<stop offset="0.65" stop-color="rgb(47,179,123)"/>
<stop offset="0.7" stop-color="rgb(68,190,112)"/>
<stop offset="0.75" stop-color="rgb(94,201,97)"/>
<stop offset="0.8" stop-color="rgb(121,209,81)"/>
<stop offset="0.85" stop-color="rgb(154,216,60)"/>
<stop offset="0.9" stop-color="rgb(189,222,38)"/>
<stop offset="0.95" stop-color="rgb(223,227,24)"/>
<stop offset="1" stop-color="rgb(253,231,36)"/>
</linearGradient></defs>
<rect x="1182" y="396.8" width="15.2" height="287" fill="url(#vir)" stroke="#000" stroke-width="1"/>
<line x1="1197.2" y1="437.2" x2="1201.7" y2="437.2" stroke="#000" stroke-width="1"/>
<text x="1205.2" y="443.5" font-size="17.91" textLength="38.52" lengthAdjust="spacingAndGlyphs" fill="#000">1.00</text>
<line x1="1197.2" y1="478.3" x2="1201.7" y2="478.3" stroke="#000" stroke-width="1"/>
<text x="1205.2" y="484.6" font-size="17.91" textLength="38.52" lengthAdjust="spacingAndGlyphs" fill="#000">0.75</text>
<line x1="1197.2" y1="519.4" x2="1201.7" y2="519.4" stroke="#000" stroke-width="1"/>
<text x="1205.2" y="525.7" font-size="17.91" textLength="38.52" lengthAdjust="spacingAndGlyphs" fill="#000">0.50</text>
<line x1="1197.2" y1="560.5" x2="1201.7" y2="560.5" stroke="#000" stroke-width="1"/>
<text x="1205.2" y="566.8" font-size="17.91" textLength="38.52" lengthAdjust="spacingAndGlyphs" fill="#000">0.25</text>
<line x1="1197.2" y1="601.6" x2="1201.7" y2="601.6" stroke="#000" stroke-width="1"/>
<text x="1205.2" y="607.9" font-size="17.91" textLength="38.52" lengthAdjust="spacingAndGlyphs" fill="#000">0.00</text>
<line x1="1197.2" y1="642.7" x2="1201.7" y2="642.7" stroke="#000" stroke-width="1"/>
<text x="1205.2" y="649" font-size="17.91" textLength="53.02" lengthAdjust="spacingAndGlyphs" fill="#000">−0.25</text>
<line x1="1197.2" y1="683.8" x2="1201.7" y2="683.8" stroke="#000" stroke-width="1"/>
<text x="1205.2" y="690.1" font-size="17.91" textLength="53.02" lengthAdjust="spacingAndGlyphs" fill="#000">−0.50</text>
<g transform="translate(864.5 444.4) rotate(-30)">
<text x="-83.29" y="6.4" font-size="18.01" textLength="83.29" lengthAdjust="spacingAndGlyphs" fill="#000">Lightness</text>
</g>
<g transform="translate(862 540) rotate(-30)">
<text x="-63.48" y="-2.4" font-size="18.01" textLength="63.48" lengthAdjust="spacingAndGlyphs" fill="#000">Red vs.</text>
<text x="-52.69" y="15.2" font-size="18.01" textLength="52.69" lengthAdjust="spacingAndGlyphs" fill="#000">Green</text>
</g>
<g transform="translate(862 635.5) rotate(-30)">
<text x="-68.93" y="-2.4" font-size="18.01" textLength="68.93" lengthAdjust="spacingAndGlyphs" fill="#000">Blue vs.</text>
<text x="-53.57" y="15.2" font-size="18.01" textLength="53.57" lengthAdjust="spacingAndGlyphs" fill="#000">Yellow</text>
</g>
<g transform="translate(923.4 717.8) rotate(-30)">
<text x="-41.64" y="6.4" font-size="18.01" textLength="83.29" lengthAdjust="spacingAndGlyphs" fill="#000">Lightness</text>
</g>
<g transform="translate(1019 720) rotate(-30)">
<text x="-31.74" y="-2.4" font-size="18.01" textLength="63.48" lengthAdjust="spacingAndGlyphs" fill="#000">Red vs.</text>
<text x="-26.35" y="15.2" font-size="18.01" textLength="52.69" lengthAdjust="spacingAndGlyphs" fill="#000">Green</text>
</g>
<g transform="translate(1114 722) rotate(-30)">
<text x="-34.46" y="-2.4" font-size="18.01" textLength="68.93" lengthAdjust="spacingAndGlyphs" fill="#000">Blue vs.</text>
<text x="-26.78" y="15.2" font-size="18.01" textLength="53.57" lengthAdjust="spacingAndGlyphs" fill="#000">Yellow</text>
</g>
<g font-family="Liberation Serif, serif" font-size="30.7" fill="#000">
<text x="105.9" y="325.4" textLength="210.1" lengthAdjust="spacingAndGlyphs">(a) Test accuracy</text>
<text x="527.9" y="325.4" textLength="300.1" lengthAdjust="spacingAndGlyphs">(b) Relative metric error</text>
<text x="969.3" y="325.4" textLength="353.7" lengthAdjust="spacingAndGlyphs">(c) Relative ideal point error</text>
<text x="81.9" y="808.2" textLength="505.9" lengthAdjust="spacingAndGlyphs">(d) Color preference prediction accuracy</text>
<text x="804.9" y="815.3" textLength="145.6" lengthAdjust="spacingAndGlyphs">(e) Average</text>
<text x="959.5" y="815.3" font-style="italic" stroke="#000" stroke-width="0.2" textLength="36" lengthAdjust="spacingAndGlyphs">M</text>
<text x="1005.5" y="815.3" textLength="234.4" lengthAdjust="spacingAndGlyphs">over all color trials</text>
</g>
<path d="M965.1 789.6 L980.5 783.9 L996.6 789.6" fill="none" stroke="#000" stroke-width="1.1"/>
</svg>
</body></html>
